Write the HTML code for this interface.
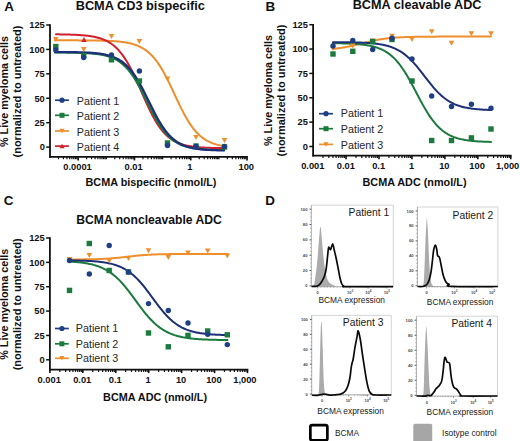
<!DOCTYPE html>
<html><head><meta charset="utf-8"><style>
html,body{margin:0;padding:0;background:#fff;}
body{width:520px;height:441px;overflow:hidden;}
svg{display:block;font-family:"Liberation Sans",sans-serif;}
</style></head><body>
<svg width="520" height="441" viewBox="0 0 520 441">
<rect width="520" height="441" fill="#fff"/>
<text x="4.30" y="11.30" font-size="13.40" font-weight="bold" text-anchor="start" fill="#111">A</text>
<text x="265.60" y="11.30" font-size="13.40" font-weight="bold" text-anchor="start" fill="#111">B</text>
<text x="3.80" y="204.90" font-size="13.40" font-weight="bold" text-anchor="start" fill="#111">C</text>
<text x="265.30" y="204.90" font-size="13.40" font-weight="bold" text-anchor="start" fill="#111">D</text>
<text x="75.70" y="10.30" font-size="12.75" font-weight="bold" text-anchor="start" fill="#111">BCMA CD3 bispecific</text>
<text x="352.70" y="9.10" font-size="12.70" font-weight="bold" text-anchor="start" fill="#111">BCMA cleavable ADC</text>
<text x="76.30" y="223.60" font-size="12.15" font-weight="bold" text-anchor="start" fill="#111">BCMA noncleavable ADC</text>
<line x1="50.00" y1="24.20" x2="50.00" y2="157.80" stroke="#111" stroke-width="1.8"/>
<line x1="46.20" y1="25.00" x2="50.00" y2="25.00" stroke="#111" stroke-width="1.5"/>
<text x="44.80" y="28.30" font-size="9.30" font-weight="bold" text-anchor="end" fill="#111">125</text>
<line x1="46.20" y1="49.42" x2="50.00" y2="49.42" stroke="#111" stroke-width="1.5"/>
<text x="44.80" y="52.72" font-size="9.30" font-weight="bold" text-anchor="end" fill="#111">100</text>
<line x1="46.20" y1="73.84" x2="50.00" y2="73.84" stroke="#111" stroke-width="1.5"/>
<text x="44.80" y="77.14" font-size="9.30" font-weight="bold" text-anchor="end" fill="#111">75</text>
<line x1="46.20" y1="98.26" x2="50.00" y2="98.26" stroke="#111" stroke-width="1.5"/>
<text x="44.80" y="101.56" font-size="9.30" font-weight="bold" text-anchor="end" fill="#111">50</text>
<line x1="46.20" y1="122.68" x2="50.00" y2="122.68" stroke="#111" stroke-width="1.5"/>
<text x="44.80" y="125.98" font-size="9.30" font-weight="bold" text-anchor="end" fill="#111">25</text>
<line x1="46.20" y1="147.10" x2="50.00" y2="147.10" stroke="#111" stroke-width="1.5"/>
<text x="44.80" y="150.40" font-size="9.30" font-weight="bold" text-anchor="end" fill="#111">0</text>
<line x1="49.20" y1="156.90" x2="247.85" y2="156.90" stroke="#111" stroke-width="1.8"/>
<line x1="58.47" y1="156.90" x2="58.47" y2="159.20" stroke="#111" stroke-width="1.2"/>
<line x1="63.43" y1="156.90" x2="63.43" y2="159.20" stroke="#111" stroke-width="1.2"/>
<line x1="66.95" y1="156.90" x2="66.95" y2="159.20" stroke="#111" stroke-width="1.2"/>
<line x1="69.68" y1="156.90" x2="69.68" y2="159.20" stroke="#111" stroke-width="1.2"/>
<line x1="71.90" y1="156.90" x2="71.90" y2="159.20" stroke="#111" stroke-width="1.2"/>
<line x1="73.79" y1="156.90" x2="73.79" y2="159.20" stroke="#111" stroke-width="1.2"/>
<line x1="75.42" y1="156.90" x2="75.42" y2="159.20" stroke="#111" stroke-width="1.2"/>
<line x1="76.86" y1="156.90" x2="76.86" y2="159.20" stroke="#111" stroke-width="1.2"/>
<line x1="78.15" y1="156.90" x2="78.15" y2="160.40" stroke="#111" stroke-width="1.6"/>
<line x1="86.62" y1="156.90" x2="86.62" y2="159.20" stroke="#111" stroke-width="1.2"/>
<line x1="91.58" y1="156.90" x2="91.58" y2="159.20" stroke="#111" stroke-width="1.2"/>
<line x1="95.10" y1="156.90" x2="95.10" y2="159.20" stroke="#111" stroke-width="1.2"/>
<line x1="97.83" y1="156.90" x2="97.83" y2="159.20" stroke="#111" stroke-width="1.2"/>
<line x1="100.05" y1="156.90" x2="100.05" y2="159.20" stroke="#111" stroke-width="1.2"/>
<line x1="101.94" y1="156.90" x2="101.94" y2="159.20" stroke="#111" stroke-width="1.2"/>
<line x1="103.57" y1="156.90" x2="103.57" y2="159.20" stroke="#111" stroke-width="1.2"/>
<line x1="105.01" y1="156.90" x2="105.01" y2="159.20" stroke="#111" stroke-width="1.2"/>
<line x1="106.30" y1="156.90" x2="106.30" y2="159.30" stroke="#111" stroke-width="1.3"/>
<line x1="114.77" y1="156.90" x2="114.77" y2="159.20" stroke="#111" stroke-width="1.2"/>
<line x1="119.73" y1="156.90" x2="119.73" y2="159.20" stroke="#111" stroke-width="1.2"/>
<line x1="123.25" y1="156.90" x2="123.25" y2="159.20" stroke="#111" stroke-width="1.2"/>
<line x1="125.98" y1="156.90" x2="125.98" y2="159.20" stroke="#111" stroke-width="1.2"/>
<line x1="128.20" y1="156.90" x2="128.20" y2="159.20" stroke="#111" stroke-width="1.2"/>
<line x1="130.09" y1="156.90" x2="130.09" y2="159.20" stroke="#111" stroke-width="1.2"/>
<line x1="131.72" y1="156.90" x2="131.72" y2="159.20" stroke="#111" stroke-width="1.2"/>
<line x1="133.16" y1="156.90" x2="133.16" y2="159.20" stroke="#111" stroke-width="1.2"/>
<line x1="134.45" y1="156.90" x2="134.45" y2="160.40" stroke="#111" stroke-width="1.6"/>
<line x1="142.92" y1="156.90" x2="142.92" y2="159.20" stroke="#111" stroke-width="1.2"/>
<line x1="147.88" y1="156.90" x2="147.88" y2="159.20" stroke="#111" stroke-width="1.2"/>
<line x1="151.40" y1="156.90" x2="151.40" y2="159.20" stroke="#111" stroke-width="1.2"/>
<line x1="154.13" y1="156.90" x2="154.13" y2="159.20" stroke="#111" stroke-width="1.2"/>
<line x1="156.35" y1="156.90" x2="156.35" y2="159.20" stroke="#111" stroke-width="1.2"/>
<line x1="158.24" y1="156.90" x2="158.24" y2="159.20" stroke="#111" stroke-width="1.2"/>
<line x1="159.87" y1="156.90" x2="159.87" y2="159.20" stroke="#111" stroke-width="1.2"/>
<line x1="161.31" y1="156.90" x2="161.31" y2="159.20" stroke="#111" stroke-width="1.2"/>
<line x1="162.60" y1="156.90" x2="162.60" y2="159.30" stroke="#111" stroke-width="1.3"/>
<line x1="171.07" y1="156.90" x2="171.07" y2="159.20" stroke="#111" stroke-width="1.2"/>
<line x1="176.03" y1="156.90" x2="176.03" y2="159.20" stroke="#111" stroke-width="1.2"/>
<line x1="179.55" y1="156.90" x2="179.55" y2="159.20" stroke="#111" stroke-width="1.2"/>
<line x1="182.28" y1="156.90" x2="182.28" y2="159.20" stroke="#111" stroke-width="1.2"/>
<line x1="184.50" y1="156.90" x2="184.50" y2="159.20" stroke="#111" stroke-width="1.2"/>
<line x1="186.39" y1="156.90" x2="186.39" y2="159.20" stroke="#111" stroke-width="1.2"/>
<line x1="188.02" y1="156.90" x2="188.02" y2="159.20" stroke="#111" stroke-width="1.2"/>
<line x1="189.46" y1="156.90" x2="189.46" y2="159.20" stroke="#111" stroke-width="1.2"/>
<line x1="190.75" y1="156.90" x2="190.75" y2="160.40" stroke="#111" stroke-width="1.6"/>
<line x1="199.22" y1="156.90" x2="199.22" y2="159.20" stroke="#111" stroke-width="1.2"/>
<line x1="204.18" y1="156.90" x2="204.18" y2="159.20" stroke="#111" stroke-width="1.2"/>
<line x1="207.70" y1="156.90" x2="207.70" y2="159.20" stroke="#111" stroke-width="1.2"/>
<line x1="210.43" y1="156.90" x2="210.43" y2="159.20" stroke="#111" stroke-width="1.2"/>
<line x1="212.65" y1="156.90" x2="212.65" y2="159.20" stroke="#111" stroke-width="1.2"/>
<line x1="214.54" y1="156.90" x2="214.54" y2="159.20" stroke="#111" stroke-width="1.2"/>
<line x1="216.17" y1="156.90" x2="216.17" y2="159.20" stroke="#111" stroke-width="1.2"/>
<line x1="217.61" y1="156.90" x2="217.61" y2="159.20" stroke="#111" stroke-width="1.2"/>
<line x1="218.90" y1="156.90" x2="218.90" y2="159.30" stroke="#111" stroke-width="1.3"/>
<line x1="227.37" y1="156.90" x2="227.37" y2="159.20" stroke="#111" stroke-width="1.2"/>
<line x1="232.33" y1="156.90" x2="232.33" y2="159.20" stroke="#111" stroke-width="1.2"/>
<line x1="235.85" y1="156.90" x2="235.85" y2="159.20" stroke="#111" stroke-width="1.2"/>
<line x1="238.58" y1="156.90" x2="238.58" y2="159.20" stroke="#111" stroke-width="1.2"/>
<line x1="240.80" y1="156.90" x2="240.80" y2="159.20" stroke="#111" stroke-width="1.2"/>
<line x1="242.69" y1="156.90" x2="242.69" y2="159.20" stroke="#111" stroke-width="1.2"/>
<line x1="244.32" y1="156.90" x2="244.32" y2="159.20" stroke="#111" stroke-width="1.2"/>
<line x1="245.76" y1="156.90" x2="245.76" y2="159.20" stroke="#111" stroke-width="1.2"/>
<line x1="247.05" y1="156.90" x2="247.05" y2="160.40" stroke="#111" stroke-width="1.6"/>
<text x="77.50" y="170.30" font-size="9.30" font-weight="bold" text-anchor="middle" fill="#111">0.0001</text>
<text x="133.60" y="170.30" font-size="9.30" font-weight="bold" text-anchor="middle" fill="#111">0.01</text>
<text x="189.80" y="170.30" font-size="9.30" font-weight="bold" text-anchor="middle" fill="#111">1</text>
<text x="246.30" y="170.30" font-size="9.30" font-weight="bold" text-anchor="middle" fill="#111">100</text>
<text transform="translate(8.30,91.50) rotate(-90)" font-size="10.80" font-weight="bold" text-anchor="middle" fill="#111">% Live myeloma cells</text>
<text transform="translate(21.30,91.50) rotate(-90)" font-size="11.00" font-weight="bold" text-anchor="middle" fill="#111">(normalized to untreated)</text>
<text x="85.50" y="185.60" font-size="10.85" font-weight="bold" text-anchor="start" fill="#111">BCMA bispecific (nmol/L)</text>
<path d="M55.00,40.33 L56.00,40.33 L57.00,40.33 L58.00,40.33 L59.00,40.33 L60.00,40.33 L61.00,40.34 L62.00,40.34 L63.00,40.34 L64.00,40.34 L65.00,40.34 L66.00,40.34 L67.00,40.34 L68.00,40.34 L69.00,40.35 L70.00,40.35 L71.00,40.35 L72.00,40.35 L73.00,40.36 L74.00,40.36 L75.00,40.36 L76.00,40.36 L77.00,40.37 L78.00,40.37 L79.00,40.38 L80.00,40.38 L81.00,40.38 L82.00,40.39 L83.00,40.40 L84.00,40.40 L85.00,40.41 L86.00,40.42 L87.00,40.42 L88.00,40.43 L89.00,40.44 L90.00,40.45 L91.00,40.46 L92.00,40.47 L93.00,40.48 L94.00,40.50 L95.00,40.51 L96.00,40.53 L97.00,40.54 L98.00,40.56 L99.00,40.58 L100.00,40.60 L101.00,40.63 L102.00,40.65 L103.00,40.68 L104.00,40.71 L105.00,40.74 L106.00,40.78 L107.00,40.81 L108.00,40.86 L109.00,40.90 L110.00,40.95 L111.00,41.00 L112.00,41.05 L113.00,41.11 L114.00,41.18 L115.00,41.25 L116.00,41.33 L117.00,41.41 L118.00,41.50 L119.00,41.60 L120.00,41.70 L121.00,41.81 L122.00,41.93 L123.00,42.07 L124.00,42.21 L125.00,42.36 L126.00,42.53 L127.00,42.71 L128.00,42.90 L129.00,43.11 L130.00,43.33 L131.00,43.58 L132.00,43.84 L133.00,44.12 L134.00,44.42 L135.00,44.75 L136.00,45.10 L137.00,45.48 L138.00,45.88 L139.00,46.32 L140.00,46.79 L141.00,47.29 L142.00,47.83 L143.00,48.41 L144.00,49.02 L145.00,49.68 L146.00,50.39 L147.00,51.14 L148.00,51.94 L149.00,52.79 L150.00,53.70 L151.00,54.66 L152.00,55.68 L153.00,56.77 L154.00,57.91 L155.00,59.11 L156.00,60.39 L157.00,61.72 L158.00,63.12 L159.00,64.59 L160.00,66.12 L161.00,67.72 L162.00,69.38 L163.00,71.11 L164.00,72.89 L165.00,74.73 L166.00,76.63 L167.00,78.57 L168.00,80.57 L169.00,82.60 L170.00,84.66 L171.00,86.76 L172.00,88.88 L173.00,91.02 L174.00,93.17 L175.00,95.32 L176.00,97.46 L177.00,99.60 L178.00,101.72 L179.00,103.82 L180.00,105.88 L181.00,107.92 L182.00,109.91 L183.00,111.85 L184.00,113.75 L185.00,115.59 L186.00,117.37 L187.00,119.10 L188.00,120.76 L189.00,122.36 L190.00,123.89 L191.00,125.36 L192.00,126.76 L193.00,128.10 L194.00,129.37 L195.00,130.57 L196.00,131.72 L197.00,132.80 L198.00,133.82 L199.00,134.78 L200.00,135.69 L201.00,136.54 L202.00,137.35 L203.00,138.10 L204.00,138.80 L205.00,139.46 L206.00,140.08 L207.00,140.66 L208.00,141.20 L209.00,141.70 L210.00,142.17 L211.00,142.60 L212.00,143.01 L213.00,143.39 L214.00,143.74 L215.00,144.06 L216.00,144.37 L217.00,144.65 L218.00,144.91 L219.00,145.15 L220.00,145.38 L221.00,145.59 L222.00,145.78 L223.00,145.96 L224.00,146.12" fill="none" stroke="#ee8e2c" stroke-width="2.00" stroke-linejoin="round" stroke-linecap="round"/>
<path d="M56.00,34.34 L57.00,34.35 L58.00,34.36 L59.00,34.37 L60.00,34.38 L61.00,34.40 L62.00,34.41 L63.00,34.43 L64.00,34.45 L65.00,34.47 L66.00,34.49 L67.00,34.51 L68.00,34.54 L69.00,34.57 L70.00,34.60 L71.00,34.63 L72.00,34.66 L73.00,34.70 L74.00,34.74 L75.00,34.79 L76.00,34.83 L77.00,34.88 L78.00,34.94 L79.00,35.00 L80.00,35.06 L81.00,35.14 L82.00,35.21 L83.00,35.29 L84.00,35.38 L85.00,35.48 L86.00,35.58 L87.00,35.69 L88.00,35.82 L89.00,35.95 L90.00,36.09 L91.00,36.24 L92.00,36.41 L93.00,36.59 L94.00,36.78 L95.00,36.98 L96.00,37.21 L97.00,37.45 L98.00,37.71 L99.00,37.99 L100.00,38.29 L101.00,38.62 L102.00,38.97 L103.00,39.34 L104.00,39.75 L105.00,40.18 L106.00,40.65 L107.00,41.15 L108.00,41.69 L109.00,42.27 L110.00,42.88 L111.00,43.54 L112.00,44.25 L113.00,45.00 L114.00,45.81 L115.00,46.66 L116.00,47.57 L117.00,48.54 L118.00,49.57 L119.00,50.66 L120.00,51.82 L121.00,53.04 L122.00,54.33 L123.00,55.69 L124.00,57.11 L125.00,58.61 L126.00,60.18 L127.00,61.82 L128.00,63.52 L129.00,65.30 L130.00,67.14 L131.00,69.05 L132.00,71.01 L133.00,73.04 L134.00,75.12 L135.00,77.25 L136.00,79.42 L137.00,81.63 L138.00,83.87 L139.00,86.13 L140.00,88.41 L141.00,90.71 L142.00,93.00 L143.00,95.29 L144.00,97.57 L145.00,99.84 L146.00,102.07 L147.00,104.28 L148.00,106.44 L149.00,108.56 L150.00,110.63 L151.00,112.65 L152.00,114.60 L153.00,116.50 L154.00,118.33 L155.00,120.09 L156.00,121.78 L157.00,123.40 L158.00,124.95 L159.00,126.42 L160.00,127.83 L161.00,129.16 L162.00,130.43 L163.00,131.62 L164.00,132.75 L165.00,133.82 L166.00,134.82 L167.00,135.76 L168.00,136.64 L169.00,137.47 L170.00,138.25 L171.00,138.97 L172.00,139.65 L173.00,140.28 L174.00,140.87 L175.00,141.42 L176.00,141.93 L177.00,142.40 L178.00,142.84 L179.00,143.25 L180.00,143.63 L181.00,143.98 L182.00,144.31 L183.00,144.61 L184.00,144.89 L185.00,145.15 L186.00,145.39 L187.00,145.61 L188.00,145.82 L189.00,146.01 L190.00,146.18 L191.00,146.34 L192.00,146.49 L193.00,146.63 L194.00,146.75 L195.00,146.87 L196.00,146.98 L197.00,147.08 L198.00,147.17 L199.00,147.26 L200.00,147.33 L201.00,147.41 L202.00,147.47 L203.00,147.53 L204.00,147.59 L205.00,147.64 L206.00,147.69 L207.00,147.73 L208.00,147.77 L209.00,147.81 L210.00,147.84 L211.00,147.88 L212.00,147.91 L213.00,147.93 L214.00,147.96 L215.00,147.98 L216.00,148.00 L217.00,148.02 L218.00,148.04 L219.00,148.05 L220.00,148.07 L221.00,148.08 L222.00,148.10 L223.00,148.11 L224.00,148.12" fill="none" stroke="#d2202e" stroke-width="2.00" stroke-linejoin="round" stroke-linecap="round"/>
<path d="M55.00,52.55 L56.00,52.55 L57.00,52.56 L58.00,52.56 L59.00,52.57 L60.00,52.58 L61.00,52.58 L62.00,52.59 L63.00,52.60 L64.00,52.61 L65.00,52.61 L66.00,52.62 L67.00,52.63 L68.00,52.65 L69.00,52.66 L70.00,52.67 L71.00,52.69 L72.00,52.70 L73.00,52.72 L74.00,52.74 L75.00,52.76 L76.00,52.78 L77.00,52.81 L78.00,52.83 L79.00,52.86 L80.00,52.89 L81.00,52.93 L82.00,52.96 L83.00,53.00 L84.00,53.05 L85.00,53.09 L86.00,53.14 L87.00,53.20 L88.00,53.26 L89.00,53.32 L90.00,53.39 L91.00,53.47 L92.00,53.55 L93.00,53.64 L94.00,53.74 L95.00,53.84 L96.00,53.96 L97.00,54.08 L98.00,54.22 L99.00,54.36 L100.00,54.52 L101.00,54.69 L102.00,54.87 L103.00,55.07 L104.00,55.28 L105.00,55.52 L106.00,55.77 L107.00,56.04 L108.00,56.33 L109.00,56.65 L110.00,56.99 L111.00,57.35 L112.00,57.75 L113.00,58.17 L114.00,58.63 L115.00,59.12 L116.00,59.65 L117.00,60.22 L118.00,60.83 L119.00,61.48 L120.00,62.17 L121.00,62.92 L122.00,63.71 L123.00,64.56 L124.00,65.46 L125.00,66.41 L126.00,67.43 L127.00,68.50 L128.00,69.64 L129.00,70.84 L130.00,72.10 L131.00,73.42 L132.00,74.81 L133.00,76.27 L134.00,77.78 L135.00,79.36 L136.00,81.00 L137.00,82.69 L138.00,84.44 L139.00,86.24 L140.00,88.09 L141.00,89.98 L142.00,91.91 L143.00,93.86 L144.00,95.84 L145.00,97.84 L146.00,99.86 L147.00,101.87 L148.00,103.89 L149.00,105.90 L150.00,107.89 L151.00,109.86 L152.00,111.80 L153.00,113.71 L154.00,115.58 L155.00,117.41 L156.00,119.19 L157.00,120.91 L158.00,122.58 L159.00,124.19 L160.00,125.74 L161.00,127.22 L162.00,128.65 L163.00,130.01 L164.00,131.30 L165.00,132.53 L166.00,133.70 L167.00,134.81 L168.00,135.86 L169.00,136.84 L170.00,137.77 L171.00,138.65 L172.00,139.47 L173.00,140.24 L174.00,140.96 L175.00,141.63 L176.00,142.26 L177.00,142.85 L178.00,143.40 L179.00,143.91 L180.00,144.39 L181.00,144.83 L182.00,145.24 L183.00,145.62 L184.00,145.98 L185.00,146.30 L186.00,146.61 L187.00,146.89 L188.00,147.15 L189.00,147.39 L190.00,147.62 L191.00,147.83 L192.00,148.02 L193.00,148.19 L194.00,148.36 L195.00,148.51 L196.00,148.65 L197.00,148.78 L198.00,148.90 L199.00,149.01 L200.00,149.11 L201.00,149.20 L202.00,149.29 L203.00,149.37 L204.00,149.44 L205.00,149.51 L206.00,149.57 L207.00,149.63 L208.00,149.68 L209.00,149.73 L210.00,149.77 L211.00,149.82 L212.00,149.85 L213.00,149.89 L214.00,149.92 L215.00,149.95 L216.00,149.98 L217.00,150.00 L218.00,150.03 L219.00,150.05 L220.00,150.07 L221.00,150.09 L222.00,150.10 L223.00,150.12 L224.00,150.13" fill="none" stroke="#1b7a3d" stroke-width="2.00" stroke-linejoin="round" stroke-linecap="round"/>
<path d="M55.00,52.04 L56.00,52.05 L57.00,52.05 L58.00,52.05 L59.00,52.06 L60.00,52.06 L61.00,52.07 L62.00,52.08 L63.00,52.08 L64.00,52.09 L65.00,52.10 L66.00,52.11 L67.00,52.12 L68.00,52.13 L69.00,52.14 L70.00,52.15 L71.00,52.16 L72.00,52.17 L73.00,52.19 L74.00,52.21 L75.00,52.22 L76.00,52.24 L77.00,52.26 L78.00,52.29 L79.00,52.31 L80.00,52.34 L81.00,52.37 L82.00,52.40 L83.00,52.43 L84.00,52.47 L85.00,52.51 L86.00,52.55 L87.00,52.60 L88.00,52.65 L89.00,52.71 L90.00,52.77 L91.00,52.83 L92.00,52.90 L93.00,52.98 L94.00,53.06 L95.00,53.15 L96.00,53.25 L97.00,53.36 L98.00,53.47 L99.00,53.60 L100.00,53.73 L101.00,53.88 L102.00,54.03 L103.00,54.21 L104.00,54.39 L105.00,54.59 L106.00,54.81 L107.00,55.04 L108.00,55.29 L109.00,55.57 L110.00,55.86 L111.00,56.18 L112.00,56.52 L113.00,56.89 L114.00,57.29 L115.00,57.72 L116.00,58.18 L117.00,58.68 L118.00,59.21 L119.00,59.78 L120.00,60.40 L121.00,61.05 L122.00,61.75 L123.00,62.50 L124.00,63.30 L125.00,64.16 L126.00,65.06 L127.00,66.03 L128.00,67.05 L129.00,68.13 L130.00,69.28 L131.00,70.49 L132.00,71.76 L133.00,73.10 L134.00,74.50 L135.00,75.96 L136.00,77.49 L137.00,79.08 L138.00,80.73 L139.00,82.44 L140.00,84.21 L141.00,86.02 L142.00,87.88 L143.00,89.79 L144.00,91.73 L145.00,93.70 L146.00,95.70 L147.00,97.72 L148.00,99.74 L149.00,101.78 L150.00,103.81 L151.00,105.84 L152.00,107.84 L153.00,109.83 L154.00,111.79 L155.00,113.71 L156.00,115.60 L157.00,117.44 L158.00,119.23 L159.00,120.97 L160.00,122.65 L161.00,124.27 L162.00,125.84 L163.00,127.34 L164.00,128.77 L165.00,130.14 L166.00,131.45 L167.00,132.69 L168.00,133.87 L169.00,134.98 L170.00,136.04 L171.00,137.03 L172.00,137.97 L173.00,138.85 L174.00,139.68 L175.00,140.46 L176.00,141.18 L177.00,141.86 L178.00,142.50 L179.00,143.09 L180.00,143.64 L181.00,144.16 L182.00,144.64 L183.00,145.08 L184.00,145.50 L185.00,145.88 L186.00,146.24 L187.00,146.57 L188.00,146.88 L189.00,147.16 L190.00,147.43 L191.00,147.67 L192.00,147.90 L193.00,148.11 L194.00,148.30 L195.00,148.48 L196.00,148.64 L197.00,148.79 L198.00,148.93 L199.00,149.06 L200.00,149.18 L201.00,149.30 L202.00,149.40 L203.00,149.49 L204.00,149.58 L205.00,149.66 L206.00,149.73 L207.00,149.80 L208.00,149.86 L209.00,149.92 L210.00,149.97 L211.00,150.02 L212.00,150.07 L213.00,150.11 L214.00,150.15 L215.00,150.19 L216.00,150.22 L217.00,150.25 L218.00,150.28 L219.00,150.30 L220.00,150.33 L221.00,150.35 L222.00,150.37 L223.00,150.39 L224.00,150.40" fill="none" stroke="#1d2f78" stroke-width="2.30" stroke-linejoin="round" stroke-linecap="round"/>
<path d="M53.00,36.98 L58.60,36.98 L55.80,42.02 Z" fill="#ee8e2c"/>
<path d="M80.90,46.98 L86.50,46.98 L83.70,52.02 Z" fill="#ee8e2c"/>
<path d="M108.70,33.98 L114.30,33.98 L111.50,39.02 Z" fill="#ee8e2c"/>
<path d="M136.60,38.98 L142.20,38.98 L139.40,44.02 Z" fill="#ee8e2c"/>
<path d="M164.70,76.48 L170.30,76.48 L167.50,81.52 Z" fill="#ee8e2c"/>
<path d="M193.20,134.98 L198.80,134.98 L196.00,140.02 Z" fill="#ee8e2c"/>
<path d="M221.70,137.98 L227.30,137.98 L224.50,143.02 Z" fill="#ee8e2c"/>
<path d="M81.20,42.02 L86.80,42.02 L84.00,36.98 Z" fill="#d2202e"/>
<rect x="53.10" y="43.80" width="5.40" height="5.40" fill="#1b7a3d"/>
<rect x="81.00" y="52.80" width="5.40" height="5.40" fill="#1b7a3d"/>
<rect x="108.80" y="57.10" width="5.40" height="5.40" fill="#1b7a3d"/>
<rect x="136.70" y="78.30" width="5.40" height="5.40" fill="#1b7a3d"/>
<rect x="164.80" y="140.30" width="5.40" height="5.40" fill="#1b7a3d"/>
<rect x="193.30" y="143.30" width="5.40" height="5.40" fill="#1b7a3d"/>
<rect x="221.80" y="144.30" width="5.40" height="5.40" fill="#1b7a3d"/>
<circle cx="55.80" cy="50.00" r="2.70" fill="#1f3f84"/>
<circle cx="83.70" cy="57.50" r="2.70" fill="#1f3f84"/>
<circle cx="111.50" cy="55.00" r="2.70" fill="#1f3f84"/>
<circle cx="139.40" cy="71.00" r="2.70" fill="#1f3f84"/>
<circle cx="167.50" cy="145.50" r="2.70" fill="#1f3f84"/>
<circle cx="196.00" cy="146.50" r="2.70" fill="#1f3f84"/>
<circle cx="224.50" cy="146.50" r="2.70" fill="#1f3f84"/>
<line x1="55.00" y1="100.20" x2="68.90" y2="100.20" stroke="#1f3f84" stroke-width="1.7"/>
<circle cx="62.00" cy="100.20" r="2.60" fill="#1f3f84"/>
<text x="76.80" y="105.40" font-size="10.75" font-weight="normal" text-anchor="start" fill="#262626">Patient 1</text>
<line x1="55.00" y1="115.30" x2="68.90" y2="115.30" stroke="#1b7a3d" stroke-width="1.7"/>
<rect x="59.50" y="112.80" width="5.00" height="5.00" fill="#1b7a3d"/>
<text x="76.80" y="120.40" font-size="10.75" font-weight="normal" text-anchor="start" fill="#262626">Patient 2</text>
<line x1="55.00" y1="131.00" x2="68.90" y2="131.00" stroke="#ee8e2c" stroke-width="1.7"/>
<path d="M59.50,128.75 L64.50,128.75 L62.00,133.25 Z" fill="#ee8e2c"/>
<text x="76.80" y="135.50" font-size="10.75" font-weight="normal" text-anchor="start" fill="#262626">Patient 3</text>
<line x1="55.00" y1="146.10" x2="68.90" y2="146.10" stroke="#d2202e" stroke-width="1.7"/>
<path d="M59.50,148.35 L64.50,148.35 L62.00,143.85 Z" fill="#d2202e"/>
<text x="76.80" y="150.70" font-size="10.75" font-weight="normal" text-anchor="start" fill="#262626">Patient 4</text>
<line x1="313.10" y1="23.90" x2="313.10" y2="156.50" stroke="#111" stroke-width="1.8"/>
<line x1="309.30" y1="24.70" x2="313.10" y2="24.70" stroke="#111" stroke-width="1.5"/>
<text x="307.90" y="28.00" font-size="9.30" font-weight="bold" text-anchor="end" fill="#111">125</text>
<line x1="309.30" y1="49.06" x2="313.10" y2="49.06" stroke="#111" stroke-width="1.5"/>
<text x="307.90" y="52.36" font-size="9.30" font-weight="bold" text-anchor="end" fill="#111">100</text>
<line x1="309.30" y1="73.42" x2="313.10" y2="73.42" stroke="#111" stroke-width="1.5"/>
<text x="307.90" y="76.72" font-size="9.30" font-weight="bold" text-anchor="end" fill="#111">75</text>
<line x1="309.30" y1="97.78" x2="313.10" y2="97.78" stroke="#111" stroke-width="1.5"/>
<text x="307.90" y="101.08" font-size="9.30" font-weight="bold" text-anchor="end" fill="#111">50</text>
<line x1="309.30" y1="122.14" x2="313.10" y2="122.14" stroke="#111" stroke-width="1.5"/>
<text x="307.90" y="125.44" font-size="9.30" font-weight="bold" text-anchor="end" fill="#111">25</text>
<line x1="309.30" y1="146.50" x2="313.10" y2="146.50" stroke="#111" stroke-width="1.5"/>
<text x="307.90" y="149.80" font-size="9.30" font-weight="bold" text-anchor="end" fill="#111">0</text>
<line x1="312.30" y1="155.70" x2="511.60" y2="155.70" stroke="#111" stroke-width="1.8"/>
<line x1="323.02" y1="155.70" x2="323.02" y2="158.00" stroke="#111" stroke-width="1.2"/>
<line x1="328.82" y1="155.70" x2="328.82" y2="158.00" stroke="#111" stroke-width="1.2"/>
<line x1="332.94" y1="155.70" x2="332.94" y2="158.00" stroke="#111" stroke-width="1.2"/>
<line x1="336.13" y1="155.70" x2="336.13" y2="158.00" stroke="#111" stroke-width="1.2"/>
<line x1="338.74" y1="155.70" x2="338.74" y2="158.00" stroke="#111" stroke-width="1.2"/>
<line x1="340.95" y1="155.70" x2="340.95" y2="158.00" stroke="#111" stroke-width="1.2"/>
<line x1="342.86" y1="155.70" x2="342.86" y2="158.00" stroke="#111" stroke-width="1.2"/>
<line x1="344.54" y1="155.70" x2="344.54" y2="158.00" stroke="#111" stroke-width="1.2"/>
<line x1="346.05" y1="155.70" x2="346.05" y2="159.20" stroke="#111" stroke-width="1.6"/>
<line x1="355.97" y1="155.70" x2="355.97" y2="158.00" stroke="#111" stroke-width="1.2"/>
<line x1="361.77" y1="155.70" x2="361.77" y2="158.00" stroke="#111" stroke-width="1.2"/>
<line x1="365.89" y1="155.70" x2="365.89" y2="158.00" stroke="#111" stroke-width="1.2"/>
<line x1="369.08" y1="155.70" x2="369.08" y2="158.00" stroke="#111" stroke-width="1.2"/>
<line x1="371.69" y1="155.70" x2="371.69" y2="158.00" stroke="#111" stroke-width="1.2"/>
<line x1="373.90" y1="155.70" x2="373.90" y2="158.00" stroke="#111" stroke-width="1.2"/>
<line x1="375.81" y1="155.70" x2="375.81" y2="158.00" stroke="#111" stroke-width="1.2"/>
<line x1="377.49" y1="155.70" x2="377.49" y2="158.00" stroke="#111" stroke-width="1.2"/>
<line x1="379.00" y1="155.70" x2="379.00" y2="159.20" stroke="#111" stroke-width="1.6"/>
<line x1="388.92" y1="155.70" x2="388.92" y2="158.00" stroke="#111" stroke-width="1.2"/>
<line x1="394.72" y1="155.70" x2="394.72" y2="158.00" stroke="#111" stroke-width="1.2"/>
<line x1="398.84" y1="155.70" x2="398.84" y2="158.00" stroke="#111" stroke-width="1.2"/>
<line x1="402.03" y1="155.70" x2="402.03" y2="158.00" stroke="#111" stroke-width="1.2"/>
<line x1="404.64" y1="155.70" x2="404.64" y2="158.00" stroke="#111" stroke-width="1.2"/>
<line x1="406.85" y1="155.70" x2="406.85" y2="158.00" stroke="#111" stroke-width="1.2"/>
<line x1="408.76" y1="155.70" x2="408.76" y2="158.00" stroke="#111" stroke-width="1.2"/>
<line x1="410.44" y1="155.70" x2="410.44" y2="158.00" stroke="#111" stroke-width="1.2"/>
<line x1="411.95" y1="155.70" x2="411.95" y2="159.20" stroke="#111" stroke-width="1.6"/>
<line x1="421.87" y1="155.70" x2="421.87" y2="158.00" stroke="#111" stroke-width="1.2"/>
<line x1="427.67" y1="155.70" x2="427.67" y2="158.00" stroke="#111" stroke-width="1.2"/>
<line x1="431.79" y1="155.70" x2="431.79" y2="158.00" stroke="#111" stroke-width="1.2"/>
<line x1="434.98" y1="155.70" x2="434.98" y2="158.00" stroke="#111" stroke-width="1.2"/>
<line x1="437.59" y1="155.70" x2="437.59" y2="158.00" stroke="#111" stroke-width="1.2"/>
<line x1="439.80" y1="155.70" x2="439.80" y2="158.00" stroke="#111" stroke-width="1.2"/>
<line x1="441.71" y1="155.70" x2="441.71" y2="158.00" stroke="#111" stroke-width="1.2"/>
<line x1="443.39" y1="155.70" x2="443.39" y2="158.00" stroke="#111" stroke-width="1.2"/>
<line x1="444.90" y1="155.70" x2="444.90" y2="159.20" stroke="#111" stroke-width="1.6"/>
<line x1="454.82" y1="155.70" x2="454.82" y2="158.00" stroke="#111" stroke-width="1.2"/>
<line x1="460.62" y1="155.70" x2="460.62" y2="158.00" stroke="#111" stroke-width="1.2"/>
<line x1="464.74" y1="155.70" x2="464.74" y2="158.00" stroke="#111" stroke-width="1.2"/>
<line x1="467.93" y1="155.70" x2="467.93" y2="158.00" stroke="#111" stroke-width="1.2"/>
<line x1="470.54" y1="155.70" x2="470.54" y2="158.00" stroke="#111" stroke-width="1.2"/>
<line x1="472.75" y1="155.70" x2="472.75" y2="158.00" stroke="#111" stroke-width="1.2"/>
<line x1="474.66" y1="155.70" x2="474.66" y2="158.00" stroke="#111" stroke-width="1.2"/>
<line x1="476.34" y1="155.70" x2="476.34" y2="158.00" stroke="#111" stroke-width="1.2"/>
<line x1="477.85" y1="155.70" x2="477.85" y2="159.20" stroke="#111" stroke-width="1.6"/>
<line x1="487.77" y1="155.70" x2="487.77" y2="158.00" stroke="#111" stroke-width="1.2"/>
<line x1="493.57" y1="155.70" x2="493.57" y2="158.00" stroke="#111" stroke-width="1.2"/>
<line x1="497.69" y1="155.70" x2="497.69" y2="158.00" stroke="#111" stroke-width="1.2"/>
<line x1="500.88" y1="155.70" x2="500.88" y2="158.00" stroke="#111" stroke-width="1.2"/>
<line x1="503.49" y1="155.70" x2="503.49" y2="158.00" stroke="#111" stroke-width="1.2"/>
<line x1="505.70" y1="155.70" x2="505.70" y2="158.00" stroke="#111" stroke-width="1.2"/>
<line x1="507.61" y1="155.70" x2="507.61" y2="158.00" stroke="#111" stroke-width="1.2"/>
<line x1="509.29" y1="155.70" x2="509.29" y2="158.00" stroke="#111" stroke-width="1.2"/>
<line x1="510.80" y1="155.70" x2="510.80" y2="159.20" stroke="#111" stroke-width="1.6"/>
<text x="312.80" y="169.10" font-size="9.30" font-weight="bold" text-anchor="middle" fill="#111">0.001</text>
<text x="345.80" y="169.10" font-size="9.30" font-weight="bold" text-anchor="middle" fill="#111">0.01</text>
<text x="378.60" y="169.10" font-size="9.30" font-weight="bold" text-anchor="middle" fill="#111">0.1</text>
<text x="411.50" y="169.10" font-size="9.30" font-weight="bold" text-anchor="middle" fill="#111">1</text>
<text x="444.30" y="169.10" font-size="9.30" font-weight="bold" text-anchor="middle" fill="#111">10</text>
<text x="477.10" y="169.10" font-size="9.30" font-weight="bold" text-anchor="middle" fill="#111">100</text>
<text x="507.60" y="169.10" font-size="9.30" font-weight="bold" text-anchor="middle" fill="#111">1,000</text>
<text transform="translate(272.10,90.50) rotate(-90)" font-size="10.80" font-weight="bold" text-anchor="middle" fill="#111">% Live myeloma cells</text>
<text transform="translate(285.40,90.50) rotate(-90)" font-size="11.00" font-weight="bold" text-anchor="middle" fill="#111">(normalized to untreated)</text>
<text x="362.50" y="185.60" font-size="10.85" font-weight="bold" text-anchor="start" fill="#111">BCMA ADC (nmol/L)</text>
<path d="M333.00,48.88 L334.00,48.77 L335.00,48.67 L336.00,48.55 L337.00,48.43 L338.00,48.30 L339.00,48.17 L340.00,48.03 L341.00,47.88 L342.00,47.73 L343.00,47.57 L344.00,47.40 L345.00,47.22 L346.00,47.04 L347.00,46.85 L348.00,46.65 L349.00,46.45 L350.00,46.24 L351.00,46.02 L352.00,45.80 L353.00,45.57 L354.00,45.34 L355.00,45.10 L356.00,44.86 L357.00,44.61 L358.00,44.36 L359.00,44.11 L360.00,43.86 L361.00,43.61 L362.00,43.36 L363.00,43.10 L364.00,42.85 L365.00,42.60 L366.00,42.35 L367.00,42.11 L368.00,41.87 L369.00,41.63 L370.00,41.39 L371.00,41.17 L372.00,40.94 L373.00,40.73 L374.00,40.52 L375.00,40.31 L376.00,40.12 L377.00,39.93 L378.00,39.75 L379.00,39.57 L380.00,39.40 L381.00,39.24 L382.00,39.08 L383.00,38.94 L384.00,38.80 L385.00,38.66 L386.00,38.54 L387.00,38.42 L388.00,38.30 L389.00,38.19 L390.00,38.09 L391.00,37.99 L392.00,37.90 L393.00,37.82 L394.00,37.74 L395.00,37.66 L396.00,37.59 L397.00,37.52 L398.00,37.46 L399.00,37.40 L400.00,37.34 L401.00,37.29 L402.00,37.24 L403.00,37.20 L404.00,37.16 L405.00,37.12 L406.00,37.08 L407.00,37.04 L408.00,37.01 L409.00,36.98 L410.00,36.95 L411.00,36.93 L412.00,36.90 L413.00,36.88 L414.00,36.86 L415.00,36.84 L416.00,36.82 L417.00,36.80 L418.00,36.78 L419.00,36.77 L420.00,36.76 L421.00,36.74 L422.00,36.73 L423.00,36.72 L424.00,36.71 L425.00,36.70 L426.00,36.69 L427.00,36.68 L428.00,36.67 L429.00,36.67 L430.00,36.66 L431.00,36.65 L432.00,36.65 L433.00,36.64 L434.00,36.64 L435.00,36.63 L436.00,36.63 L437.00,36.62 L438.00,36.62 L439.00,36.62 L440.00,36.61 L441.00,36.61 L442.00,36.61 L443.00,36.60 L444.00,36.60 L445.00,36.60 L446.00,36.60 L447.00,36.59 L448.00,36.59 L449.00,36.59 L450.00,36.59 L451.00,36.59 L452.00,36.59 L453.00,36.59 L454.00,36.58 L455.00,36.58 L456.00,36.58 L457.00,36.58 L458.00,36.58 L459.00,36.58 L460.00,36.58 L461.00,36.58 L462.00,36.58 L463.00,36.58 L464.00,36.58 L465.00,36.58 L466.00,36.57 L467.00,36.57 L468.00,36.57 L469.00,36.57 L470.00,36.57 L471.00,36.57 L472.00,36.57 L473.00,36.57 L474.00,36.57 L475.00,36.57 L476.00,36.57 L477.00,36.57 L478.00,36.57 L479.00,36.57 L480.00,36.57 L481.00,36.57 L482.00,36.57 L483.00,36.57 L484.00,36.57 L485.00,36.57 L486.00,36.57 L487.00,36.57 L488.00,36.57 L489.00,36.57 L490.00,36.57 L491.00,36.57" fill="none" stroke="#ee8e2c" stroke-width="2.00" stroke-linejoin="round" stroke-linecap="round"/>
<path d="M333.00,43.21 L334.00,43.22 L335.00,43.24 L336.00,43.25 L337.00,43.27 L338.00,43.29 L339.00,43.31 L340.00,43.33 L341.00,43.35 L342.00,43.37 L343.00,43.40 L344.00,43.42 L345.00,43.45 L346.00,43.49 L347.00,43.52 L348.00,43.56 L349.00,43.60 L350.00,43.64 L351.00,43.69 L352.00,43.74 L353.00,43.80 L354.00,43.86 L355.00,43.92 L356.00,43.99 L357.00,44.07 L358.00,44.15 L359.00,44.23 L360.00,44.33 L361.00,44.43 L362.00,44.54 L363.00,44.65 L364.00,44.78 L365.00,44.91 L366.00,45.06 L367.00,45.22 L368.00,45.39 L369.00,45.57 L370.00,45.77 L371.00,45.98 L372.00,46.21 L373.00,46.45 L374.00,46.71 L375.00,46.99 L376.00,47.30 L377.00,47.62 L378.00,47.97 L379.00,48.34 L380.00,48.74 L381.00,49.17 L382.00,49.63 L383.00,50.11 L384.00,50.64 L385.00,51.20 L386.00,51.79 L387.00,52.42 L388.00,53.10 L389.00,53.82 L390.00,54.58 L391.00,55.39 L392.00,56.24 L393.00,57.15 L394.00,58.11 L395.00,59.12 L396.00,60.18 L397.00,61.30 L398.00,62.48 L399.00,63.71 L400.00,65.00 L401.00,66.34 L402.00,67.74 L403.00,69.20 L404.00,70.71 L405.00,72.27 L406.00,73.89 L407.00,75.55 L408.00,77.25 L409.00,79.00 L410.00,80.78 L411.00,82.60 L412.00,84.44 L413.00,86.31 L414.00,88.20 L415.00,90.10 L416.00,92.01 L417.00,93.92 L418.00,95.82 L419.00,97.72 L420.00,99.60 L421.00,101.47 L422.00,103.30 L423.00,105.11 L424.00,106.88 L425.00,108.61 L426.00,110.30 L427.00,111.95 L428.00,113.54 L429.00,115.09 L430.00,116.58 L431.00,118.02 L432.00,119.40 L433.00,120.73 L434.00,121.99 L435.00,123.21 L436.00,124.36 L437.00,125.47 L438.00,126.51 L439.00,127.50 L440.00,128.44 L441.00,129.33 L442.00,130.17 L443.00,130.97 L444.00,131.71 L445.00,132.42 L446.00,133.08 L447.00,133.70 L448.00,134.28 L449.00,134.82 L450.00,135.34 L451.00,135.81 L452.00,136.26 L453.00,136.68 L454.00,137.07 L455.00,137.43 L456.00,137.77 L457.00,138.09 L458.00,138.39 L459.00,138.66 L460.00,138.92 L461.00,139.15 L462.00,139.38 L463.00,139.58 L464.00,139.77 L465.00,139.95 L466.00,140.12 L467.00,140.27 L468.00,140.41 L469.00,140.55 L470.00,140.67 L471.00,140.78 L472.00,140.89 L473.00,140.99 L474.00,141.08 L475.00,141.16 L476.00,141.24 L477.00,141.31 L478.00,141.38 L479.00,141.44 L480.00,141.50 L481.00,141.56 L482.00,141.61 L483.00,141.65 L484.00,141.70 L485.00,141.73 L486.00,141.77 L487.00,141.81 L488.00,141.84 L489.00,141.87 L490.00,141.89 L491.00,141.92" fill="none" stroke="#1b7a3d" stroke-width="2.00" stroke-linejoin="round" stroke-linecap="round"/>
<path d="M333.00,42.13 L334.00,42.14 L335.00,42.14 L336.00,42.15 L337.00,42.15 L338.00,42.16 L339.00,42.17 L340.00,42.18 L341.00,42.19 L342.00,42.19 L343.00,42.20 L344.00,42.21 L345.00,42.23 L346.00,42.24 L347.00,42.25 L348.00,42.27 L349.00,42.28 L350.00,42.30 L351.00,42.32 L352.00,42.34 L353.00,42.36 L354.00,42.38 L355.00,42.41 L356.00,42.43 L357.00,42.46 L358.00,42.49 L359.00,42.53 L360.00,42.56 L361.00,42.60 L362.00,42.64 L363.00,42.69 L364.00,42.74 L365.00,42.79 L366.00,42.85 L367.00,42.91 L368.00,42.97 L369.00,43.04 L370.00,43.12 L371.00,43.20 L372.00,43.29 L373.00,43.38 L374.00,43.48 L375.00,43.59 L376.00,43.71 L377.00,43.84 L378.00,43.98 L379.00,44.12 L380.00,44.28 L381.00,44.45 L382.00,44.63 L383.00,44.83 L384.00,45.03 L385.00,45.26 L386.00,45.50 L387.00,45.76 L388.00,46.03 L389.00,46.33 L390.00,46.64 L391.00,46.98 L392.00,47.34 L393.00,47.72 L394.00,48.13 L395.00,48.56 L396.00,49.02 L397.00,49.52 L398.00,50.04 L399.00,50.59 L400.00,51.17 L401.00,51.79 L402.00,52.45 L403.00,53.14 L404.00,53.86 L405.00,54.63 L406.00,55.43 L407.00,56.26 L408.00,57.14 L409.00,58.06 L410.00,59.01 L411.00,60.00 L412.00,61.03 L413.00,62.09 L414.00,63.19 L415.00,64.31 L416.00,65.47 L417.00,66.66 L418.00,67.87 L419.00,69.11 L420.00,70.37 L421.00,71.64 L422.00,72.92 L423.00,74.22 L424.00,75.52 L425.00,76.82 L426.00,78.13 L427.00,79.42 L428.00,80.71 L429.00,81.98 L430.00,83.24 L431.00,84.48 L432.00,85.69 L433.00,86.89 L434.00,88.05 L435.00,89.18 L436.00,90.28 L437.00,91.35 L438.00,92.38 L439.00,93.37 L440.00,94.33 L441.00,95.25 L442.00,96.13 L443.00,96.97 L444.00,97.78 L445.00,98.55 L446.00,99.28 L447.00,99.97 L448.00,100.63 L449.00,101.25 L450.00,101.84 L451.00,102.39 L452.00,102.92 L453.00,103.41 L454.00,103.88 L455.00,104.32 L456.00,104.73 L457.00,105.11 L458.00,105.48 L459.00,105.81 L460.00,106.13 L461.00,106.43 L462.00,106.71 L463.00,106.97 L464.00,107.21 L465.00,107.43 L466.00,107.64 L467.00,107.84 L468.00,108.02 L469.00,108.19 L470.00,108.35 L471.00,108.50 L472.00,108.64 L473.00,108.77 L474.00,108.88 L475.00,109.00 L476.00,109.10 L477.00,109.19 L478.00,109.28 L479.00,109.37 L480.00,109.44 L481.00,109.51 L482.00,109.58 L483.00,109.64 L484.00,109.70 L485.00,109.75 L486.00,109.80 L487.00,109.84 L488.00,109.89 L489.00,109.93 L490.00,109.96 L491.00,110.00" fill="none" stroke="#1d2f78" stroke-width="2.00" stroke-linejoin="round" stroke-linecap="round"/>
<path d="M330.20,45.98 L335.80,45.98 L333.00,51.02 Z" fill="#ee8e2c"/>
<path d="M350.00,43.48 L355.60,43.48 L352.80,48.52 Z" fill="#ee8e2c"/>
<path d="M369.90,38.48 L375.50,38.48 L372.70,43.52 Z" fill="#ee8e2c"/>
<path d="M389.20,33.78 L394.80,33.78 L392.00,38.82 Z" fill="#ee8e2c"/>
<path d="M409.20,36.98 L414.80,36.98 L412.00,42.02 Z" fill="#ee8e2c"/>
<path d="M428.90,29.18 L434.50,29.18 L431.70,34.22 Z" fill="#ee8e2c"/>
<path d="M448.70,40.78 L454.30,40.78 L451.50,45.82 Z" fill="#ee8e2c"/>
<path d="M468.60,31.18 L474.20,31.18 L471.40,36.22 Z" fill="#ee8e2c"/>
<path d="M488.20,31.18 L493.80,31.18 L491.00,36.22 Z" fill="#ee8e2c"/>
<rect x="330.30" y="51.30" width="5.40" height="5.40" fill="#1b7a3d"/>
<rect x="350.10" y="48.60" width="5.40" height="5.40" fill="#1b7a3d"/>
<rect x="370.00" y="38.80" width="5.40" height="5.40" fill="#1b7a3d"/>
<rect x="389.30" y="36.80" width="5.40" height="5.40" fill="#1b7a3d"/>
<rect x="409.30" y="78.30" width="5.40" height="5.40" fill="#1b7a3d"/>
<rect x="429.00" y="137.80" width="5.40" height="5.40" fill="#1b7a3d"/>
<rect x="448.80" y="137.80" width="5.40" height="5.40" fill="#1b7a3d"/>
<rect x="468.70" y="135.20" width="5.40" height="5.40" fill="#1b7a3d"/>
<rect x="488.30" y="126.30" width="5.40" height="5.40" fill="#1b7a3d"/>
<circle cx="333.00" cy="46.00" r="2.70" fill="#1f3f84"/>
<circle cx="352.80" cy="40.50" r="2.70" fill="#1f3f84"/>
<circle cx="372.70" cy="49.50" r="2.70" fill="#1f3f84"/>
<circle cx="392.00" cy="38.30" r="2.70" fill="#1f3f84"/>
<circle cx="412.00" cy="59.00" r="2.70" fill="#1f3f84"/>
<circle cx="431.70" cy="96.00" r="2.70" fill="#1f3f84"/>
<circle cx="451.50" cy="106.50" r="2.70" fill="#1f3f84"/>
<circle cx="471.40" cy="104.30" r="2.70" fill="#1f3f84"/>
<circle cx="491.00" cy="108.20" r="2.70" fill="#1f3f84"/>
<line x1="319.00" y1="113.70" x2="333.00" y2="113.70" stroke="#1f3f84" stroke-width="1.7"/>
<circle cx="326.00" cy="113.70" r="2.60" fill="#1f3f84"/>
<text x="340.80" y="117.30" font-size="10.75" font-weight="normal" text-anchor="start" fill="#262626">Patient 1</text>
<line x1="319.00" y1="128.70" x2="333.00" y2="128.70" stroke="#1b7a3d" stroke-width="1.7"/>
<rect x="323.50" y="126.20" width="5.00" height="5.00" fill="#1b7a3d"/>
<text x="340.80" y="132.80" font-size="10.75" font-weight="normal" text-anchor="start" fill="#262626">Patient 2</text>
<line x1="319.00" y1="144.40" x2="333.00" y2="144.40" stroke="#ee8e2c" stroke-width="1.7"/>
<path d="M323.50,142.15 L328.50,142.15 L326.00,146.65 Z" fill="#ee8e2c"/>
<text x="340.80" y="148.60" font-size="10.75" font-weight="normal" text-anchor="start" fill="#262626">Patient 3</text>
<line x1="49.90" y1="237.20" x2="49.90" y2="370.40" stroke="#111" stroke-width="1.8"/>
<line x1="46.10" y1="238.00" x2="49.90" y2="238.00" stroke="#111" stroke-width="1.5"/>
<text x="44.70" y="241.30" font-size="9.30" font-weight="bold" text-anchor="end" fill="#111">125</text>
<line x1="46.10" y1="262.36" x2="49.90" y2="262.36" stroke="#111" stroke-width="1.5"/>
<text x="44.70" y="265.66" font-size="9.30" font-weight="bold" text-anchor="end" fill="#111">100</text>
<line x1="46.10" y1="286.72" x2="49.90" y2="286.72" stroke="#111" stroke-width="1.5"/>
<text x="44.70" y="290.02" font-size="9.30" font-weight="bold" text-anchor="end" fill="#111">75</text>
<line x1="46.10" y1="311.08" x2="49.90" y2="311.08" stroke="#111" stroke-width="1.5"/>
<text x="44.70" y="314.38" font-size="9.30" font-weight="bold" text-anchor="end" fill="#111">50</text>
<line x1="46.10" y1="335.44" x2="49.90" y2="335.44" stroke="#111" stroke-width="1.5"/>
<text x="44.70" y="338.74" font-size="9.30" font-weight="bold" text-anchor="end" fill="#111">25</text>
<line x1="46.10" y1="359.80" x2="49.90" y2="359.80" stroke="#111" stroke-width="1.5"/>
<text x="44.70" y="363.10" font-size="9.30" font-weight="bold" text-anchor="end" fill="#111">0</text>
<line x1="49.10" y1="369.60" x2="248.28" y2="369.60" stroke="#111" stroke-width="1.8"/>
<line x1="49.90" y1="369.60" x2="49.90" y2="373.10" stroke="#111" stroke-width="1.6"/>
<line x1="59.81" y1="369.60" x2="59.81" y2="371.90" stroke="#111" stroke-width="1.2"/>
<line x1="65.61" y1="369.60" x2="65.61" y2="371.90" stroke="#111" stroke-width="1.2"/>
<line x1="69.73" y1="369.60" x2="69.73" y2="371.90" stroke="#111" stroke-width="1.2"/>
<line x1="72.92" y1="369.60" x2="72.92" y2="371.90" stroke="#111" stroke-width="1.2"/>
<line x1="75.52" y1="369.60" x2="75.52" y2="371.90" stroke="#111" stroke-width="1.2"/>
<line x1="77.73" y1="369.60" x2="77.73" y2="371.90" stroke="#111" stroke-width="1.2"/>
<line x1="79.64" y1="369.60" x2="79.64" y2="371.90" stroke="#111" stroke-width="1.2"/>
<line x1="81.32" y1="369.60" x2="81.32" y2="371.90" stroke="#111" stroke-width="1.2"/>
<line x1="82.83" y1="369.60" x2="82.83" y2="373.10" stroke="#111" stroke-width="1.6"/>
<line x1="92.74" y1="369.60" x2="92.74" y2="371.90" stroke="#111" stroke-width="1.2"/>
<line x1="98.54" y1="369.60" x2="98.54" y2="371.90" stroke="#111" stroke-width="1.2"/>
<line x1="102.66" y1="369.60" x2="102.66" y2="371.90" stroke="#111" stroke-width="1.2"/>
<line x1="105.85" y1="369.60" x2="105.85" y2="371.90" stroke="#111" stroke-width="1.2"/>
<line x1="108.45" y1="369.60" x2="108.45" y2="371.90" stroke="#111" stroke-width="1.2"/>
<line x1="110.66" y1="369.60" x2="110.66" y2="371.90" stroke="#111" stroke-width="1.2"/>
<line x1="112.57" y1="369.60" x2="112.57" y2="371.90" stroke="#111" stroke-width="1.2"/>
<line x1="114.25" y1="369.60" x2="114.25" y2="371.90" stroke="#111" stroke-width="1.2"/>
<line x1="115.76" y1="369.60" x2="115.76" y2="373.10" stroke="#111" stroke-width="1.6"/>
<line x1="125.67" y1="369.60" x2="125.67" y2="371.90" stroke="#111" stroke-width="1.2"/>
<line x1="131.47" y1="369.60" x2="131.47" y2="371.90" stroke="#111" stroke-width="1.2"/>
<line x1="135.59" y1="369.60" x2="135.59" y2="371.90" stroke="#111" stroke-width="1.2"/>
<line x1="138.78" y1="369.60" x2="138.78" y2="371.90" stroke="#111" stroke-width="1.2"/>
<line x1="141.38" y1="369.60" x2="141.38" y2="371.90" stroke="#111" stroke-width="1.2"/>
<line x1="143.59" y1="369.60" x2="143.59" y2="371.90" stroke="#111" stroke-width="1.2"/>
<line x1="145.50" y1="369.60" x2="145.50" y2="371.90" stroke="#111" stroke-width="1.2"/>
<line x1="147.18" y1="369.60" x2="147.18" y2="371.90" stroke="#111" stroke-width="1.2"/>
<line x1="148.69" y1="369.60" x2="148.69" y2="373.10" stroke="#111" stroke-width="1.6"/>
<line x1="158.60" y1="369.60" x2="158.60" y2="371.90" stroke="#111" stroke-width="1.2"/>
<line x1="164.40" y1="369.60" x2="164.40" y2="371.90" stroke="#111" stroke-width="1.2"/>
<line x1="168.52" y1="369.60" x2="168.52" y2="371.90" stroke="#111" stroke-width="1.2"/>
<line x1="171.71" y1="369.60" x2="171.71" y2="371.90" stroke="#111" stroke-width="1.2"/>
<line x1="174.31" y1="369.60" x2="174.31" y2="371.90" stroke="#111" stroke-width="1.2"/>
<line x1="176.52" y1="369.60" x2="176.52" y2="371.90" stroke="#111" stroke-width="1.2"/>
<line x1="178.43" y1="369.60" x2="178.43" y2="371.90" stroke="#111" stroke-width="1.2"/>
<line x1="180.11" y1="369.60" x2="180.11" y2="371.90" stroke="#111" stroke-width="1.2"/>
<line x1="181.62" y1="369.60" x2="181.62" y2="373.10" stroke="#111" stroke-width="1.6"/>
<line x1="191.53" y1="369.60" x2="191.53" y2="371.90" stroke="#111" stroke-width="1.2"/>
<line x1="197.33" y1="369.60" x2="197.33" y2="371.90" stroke="#111" stroke-width="1.2"/>
<line x1="201.45" y1="369.60" x2="201.45" y2="371.90" stroke="#111" stroke-width="1.2"/>
<line x1="204.64" y1="369.60" x2="204.64" y2="371.90" stroke="#111" stroke-width="1.2"/>
<line x1="207.24" y1="369.60" x2="207.24" y2="371.90" stroke="#111" stroke-width="1.2"/>
<line x1="209.45" y1="369.60" x2="209.45" y2="371.90" stroke="#111" stroke-width="1.2"/>
<line x1="211.36" y1="369.60" x2="211.36" y2="371.90" stroke="#111" stroke-width="1.2"/>
<line x1="213.04" y1="369.60" x2="213.04" y2="371.90" stroke="#111" stroke-width="1.2"/>
<line x1="214.55" y1="369.60" x2="214.55" y2="373.10" stroke="#111" stroke-width="1.6"/>
<line x1="224.46" y1="369.60" x2="224.46" y2="371.90" stroke="#111" stroke-width="1.2"/>
<line x1="230.26" y1="369.60" x2="230.26" y2="371.90" stroke="#111" stroke-width="1.2"/>
<line x1="234.38" y1="369.60" x2="234.38" y2="371.90" stroke="#111" stroke-width="1.2"/>
<line x1="237.57" y1="369.60" x2="237.57" y2="371.90" stroke="#111" stroke-width="1.2"/>
<line x1="240.17" y1="369.60" x2="240.17" y2="371.90" stroke="#111" stroke-width="1.2"/>
<line x1="242.38" y1="369.60" x2="242.38" y2="371.90" stroke="#111" stroke-width="1.2"/>
<line x1="244.29" y1="369.60" x2="244.29" y2="371.90" stroke="#111" stroke-width="1.2"/>
<line x1="245.97" y1="369.60" x2="245.97" y2="371.90" stroke="#111" stroke-width="1.2"/>
<line x1="247.48" y1="369.60" x2="247.48" y2="373.10" stroke="#111" stroke-width="1.6"/>
<text x="49.20" y="383.00" font-size="9.30" font-weight="bold" text-anchor="middle" fill="#111">0.001</text>
<text x="82.20" y="383.00" font-size="9.30" font-weight="bold" text-anchor="middle" fill="#111">0.01</text>
<text x="115.20" y="383.00" font-size="9.30" font-weight="bold" text-anchor="middle" fill="#111">0.1</text>
<text x="148.20" y="383.00" font-size="9.30" font-weight="bold" text-anchor="middle" fill="#111">1</text>
<text x="181.10" y="383.00" font-size="9.30" font-weight="bold" text-anchor="middle" fill="#111">10</text>
<text x="213.90" y="383.00" font-size="9.30" font-weight="bold" text-anchor="middle" fill="#111">100</text>
<text x="244.90" y="383.00" font-size="9.30" font-weight="bold" text-anchor="middle" fill="#111">1,000</text>
<text transform="translate(8.00,304.30) rotate(-90)" font-size="10.80" font-weight="bold" text-anchor="middle" fill="#111">% Live myeloma cells</text>
<text transform="translate(21.30,304.30) rotate(-90)" font-size="11.00" font-weight="bold" text-anchor="middle" fill="#111">(normalized to untreated)</text>
<text x="103.10" y="400.60" font-size="10.85" font-weight="bold" text-anchor="start" fill="#111">BCMA ADC (nmol/L)</text>
<path d="M69.50,259.48 L70.50,259.47 L71.50,259.47 L72.50,259.47 L73.50,259.46 L74.50,259.46 L75.50,259.45 L76.50,259.44 L77.50,259.44 L78.50,259.43 L79.50,259.42 L80.50,259.42 L81.50,259.41 L82.50,259.40 L83.50,259.39 L84.50,259.37 L85.50,259.36 L86.50,259.35 L87.50,259.33 L88.50,259.32 L89.50,259.30 L90.50,259.28 L91.50,259.26 L92.50,259.24 L93.50,259.22 L94.50,259.20 L95.50,259.17 L96.50,259.14 L97.50,259.11 L98.50,259.08 L99.50,259.04 L100.50,259.00 L101.50,258.96 L102.50,258.92 L103.50,258.87 L104.50,258.82 L105.50,258.77 L106.50,258.71 L107.50,258.65 L108.50,258.59 L109.50,258.52 L110.50,258.45 L111.50,258.37 L112.50,258.29 L113.50,258.21 L114.50,258.12 L115.50,258.03 L116.50,257.94 L117.50,257.84 L118.50,257.74 L119.50,257.64 L120.50,257.53 L121.50,257.42 L122.50,257.31 L123.50,257.20 L124.50,257.08 L125.50,256.96 L126.50,256.85 L127.50,256.73 L128.50,256.61 L129.50,256.50 L130.50,256.38 L131.50,256.26 L132.50,256.15 L133.50,256.04 L134.50,255.93 L135.50,255.82 L136.50,255.72 L137.50,255.62 L138.50,255.52 L139.50,255.43 L140.50,255.34 L141.50,255.25 L142.50,255.17 L143.50,255.09 L144.50,255.02 L145.50,254.95 L146.50,254.88 L147.50,254.82 L148.50,254.76 L149.50,254.70 L150.50,254.65 L151.50,254.60 L152.50,254.55 L153.50,254.51 L154.50,254.47 L155.50,254.43 L156.50,254.39 L157.50,254.36 L158.50,254.33 L159.50,254.30 L160.50,254.28 L161.50,254.25 L162.50,254.23 L163.50,254.21 L164.50,254.19 L165.50,254.17 L166.50,254.15 L167.50,254.14 L168.50,254.12 L169.50,254.11 L170.50,254.10 L171.50,254.09 L172.50,254.08 L173.50,254.07 L174.50,254.06 L175.50,254.05 L176.50,254.04 L177.50,254.03 L178.50,254.03 L179.50,254.02 L180.50,254.02 L181.50,254.01 L182.50,254.01 L183.50,254.00 L184.50,254.00 L185.50,254.00 L186.50,253.99 L187.50,253.99 L188.50,253.99 L189.50,253.98 L190.50,253.98 L191.50,253.98 L192.50,253.98 L193.50,253.98 L194.50,253.97 L195.50,253.97 L196.50,253.97 L197.50,253.97 L198.50,253.97 L199.50,253.97 L200.50,253.97 L201.50,253.97 L202.50,253.96 L203.50,253.96 L204.50,253.96 L205.50,253.96 L206.50,253.96 L207.50,253.96 L208.50,253.96 L209.50,253.96 L210.50,253.96 L211.50,253.96 L212.50,253.96 L213.50,253.96 L214.50,253.96 L215.50,253.96 L216.50,253.96 L217.50,253.96 L218.50,253.96 L219.50,253.96 L220.50,253.96 L221.50,253.96 L222.50,253.96 L223.50,253.96 L224.50,253.96 L225.50,253.96 L226.50,253.96 L227.50,253.96" fill="none" stroke="#ee8e2c" stroke-width="2.00" stroke-linejoin="round" stroke-linecap="round"/>
<path d="M69.50,261.56 L70.50,261.61 L71.50,261.68 L72.50,261.74 L73.50,261.81 L74.50,261.89 L75.50,261.97 L76.50,262.06 L77.50,262.15 L78.50,262.25 L79.50,262.35 L80.50,262.47 L81.50,262.59 L82.50,262.72 L83.50,262.85 L84.50,263.00 L85.50,263.16 L86.50,263.32 L87.50,263.50 L88.50,263.69 L89.50,263.90 L90.50,264.11 L91.50,264.34 L92.50,264.59 L93.50,264.85 L94.50,265.13 L95.50,265.42 L96.50,265.73 L97.50,266.07 L98.50,266.42 L99.50,266.80 L100.50,267.20 L101.50,267.62 L102.50,268.06 L103.50,268.54 L104.50,269.04 L105.50,269.56 L106.50,270.12 L107.50,270.71 L108.50,271.32 L109.50,271.97 L110.50,272.66 L111.50,273.37 L112.50,274.13 L113.50,274.91 L114.50,275.74 L115.50,276.59 L116.50,277.49 L117.50,278.42 L118.50,279.39 L119.50,280.39 L120.50,281.43 L121.50,282.51 L122.50,283.62 L123.50,284.76 L124.50,285.93 L125.50,287.13 L126.50,288.36 L127.50,289.62 L128.50,290.90 L129.50,292.21 L130.50,293.53 L131.50,294.87 L132.50,296.22 L133.50,297.58 L134.50,298.94 L135.50,300.32 L136.50,301.69 L137.50,303.06 L138.50,304.42 L139.50,305.77 L140.50,307.11 L141.50,308.44 L142.50,309.74 L143.50,311.03 L144.50,312.29 L145.50,313.53 L146.50,314.74 L147.50,315.91 L148.50,317.06 L149.50,318.18 L150.50,319.26 L151.50,320.31 L152.50,321.32 L153.50,322.29 L154.50,323.23 L155.50,324.13 L156.50,325.00 L157.50,325.83 L158.50,326.62 L159.50,327.38 L160.50,328.10 L161.50,328.79 L162.50,329.45 L163.50,330.07 L164.50,330.66 L165.50,331.23 L166.50,331.76 L167.50,332.26 L168.50,332.74 L169.50,333.19 L170.50,333.62 L171.50,334.02 L172.50,334.40 L173.50,334.76 L174.50,335.10 L175.50,335.41 L176.50,335.71 L177.50,335.99 L178.50,336.26 L179.50,336.51 L180.50,336.74 L181.50,336.96 L182.50,337.16 L183.50,337.36 L184.50,337.54 L185.50,337.71 L186.50,337.86 L187.50,338.01 L188.50,338.15 L189.50,338.28 L190.50,338.41 L191.50,338.52 L192.50,338.63 L193.50,338.73 L194.50,338.82 L195.50,338.91 L196.50,338.99 L197.50,339.07 L198.50,339.14 L199.50,339.21 L200.50,339.27 L201.50,339.33 L202.50,339.38 L203.50,339.43 L204.50,339.48 L205.50,339.52 L206.50,339.57 L207.50,339.61 L208.50,339.64 L209.50,339.68 L210.50,339.71 L211.50,339.74 L212.50,339.76 L213.50,339.79 L214.50,339.81 L215.50,339.84 L216.50,339.86 L217.50,339.88 L218.50,339.90 L219.50,339.91 L220.50,339.93 L221.50,339.94 L222.50,339.96 L223.50,339.97 L224.50,339.98 L225.50,339.99 L226.50,340.01 L227.50,340.02" fill="none" stroke="#1b7a3d" stroke-width="2.00" stroke-linejoin="round" stroke-linecap="round"/>
<path d="M69.50,260.42 L70.50,260.43 L71.50,260.45 L72.50,260.46 L73.50,260.48 L74.50,260.50 L75.50,260.52 L76.50,260.54 L77.50,260.56 L78.50,260.58 L79.50,260.61 L80.50,260.64 L81.50,260.67 L82.50,260.70 L83.50,260.73 L84.50,260.77 L85.50,260.81 L86.50,260.85 L87.50,260.90 L88.50,260.95 L89.50,261.00 L90.50,261.06 L91.50,261.12 L92.50,261.19 L93.50,261.26 L94.50,261.33 L95.50,261.41 L96.50,261.50 L97.50,261.59 L98.50,261.69 L99.50,261.80 L100.50,261.92 L101.50,262.04 L102.50,262.17 L103.50,262.31 L104.50,262.47 L105.50,262.63 L106.50,262.80 L107.50,262.99 L108.50,263.19 L109.50,263.40 L110.50,263.63 L111.50,263.87 L112.50,264.13 L113.50,264.41 L114.50,264.70 L115.50,265.02 L116.50,265.36 L117.50,265.71 L118.50,266.09 L119.50,266.50 L120.50,266.93 L121.50,267.39 L122.50,267.87 L123.50,268.38 L124.50,268.93 L125.50,269.50 L126.50,270.11 L127.50,270.75 L128.50,271.42 L129.50,272.13 L130.50,272.88 L131.50,273.66 L132.50,274.48 L133.50,275.34 L134.50,276.24 L135.50,277.17 L136.50,278.15 L137.50,279.16 L138.50,280.20 L139.50,281.29 L140.50,282.41 L141.50,283.56 L142.50,284.75 L143.50,285.96 L144.50,287.21 L145.50,288.48 L146.50,289.77 L147.50,291.08 L148.50,292.41 L149.50,293.76 L150.50,295.11 L151.50,296.47 L152.50,297.84 L153.50,299.20 L154.50,300.57 L155.50,301.92 L156.50,303.27 L157.50,304.60 L158.50,305.91 L159.50,307.20 L160.50,308.47 L161.50,309.71 L162.50,310.93 L163.50,312.11 L164.50,313.26 L165.50,314.38 L166.50,315.47 L167.50,316.51 L168.50,317.52 L169.50,318.49 L170.50,319.43 L171.50,320.32 L172.50,321.18 L173.50,322.00 L174.50,322.78 L175.50,323.53 L176.50,324.24 L177.50,324.91 L178.50,325.55 L179.50,326.15 L180.50,326.73 L181.50,327.27 L182.50,327.78 L183.50,328.27 L184.50,328.72 L185.50,329.15 L186.50,329.56 L187.50,329.94 L188.50,330.29 L189.50,330.63 L190.50,330.94 L191.50,331.24 L192.50,331.52 L193.50,331.77 L194.50,332.02 L195.50,332.24 L196.50,332.46 L197.50,332.66 L198.50,332.84 L199.50,333.02 L200.50,333.18 L201.50,333.33 L202.50,333.47 L203.50,333.60 L204.50,333.73 L205.50,333.84 L206.50,333.95 L207.50,334.05 L208.50,334.14 L209.50,334.23 L210.50,334.31 L211.50,334.38 L212.50,334.46 L213.50,334.52 L214.50,334.58 L215.50,334.64 L216.50,334.69 L217.50,334.74 L218.50,334.79 L219.50,334.83 L220.50,334.87 L221.50,334.91 L222.50,334.94 L223.50,334.97 L224.50,335.00 L225.50,335.03 L226.50,335.06 L227.50,335.08" fill="none" stroke="#1d2f78" stroke-width="2.00" stroke-linejoin="round" stroke-linecap="round"/>
<path d="M66.70,256.98 L72.30,256.98 L69.50,262.02 Z" fill="#ee8e2c"/>
<path d="M86.50,252.98 L92.10,252.98 L89.30,258.02 Z" fill="#ee8e2c"/>
<path d="M106.40,258.48 L112.00,258.48 L109.20,263.52 Z" fill="#ee8e2c"/>
<path d="M125.70,255.98 L131.30,255.98 L128.50,261.02 Z" fill="#ee8e2c"/>
<path d="M145.70,248.28 L151.30,248.28 L148.50,253.32 Z" fill="#ee8e2c"/>
<path d="M165.50,254.98 L171.10,254.98 L168.30,260.02 Z" fill="#ee8e2c"/>
<path d="M185.20,250.48 L190.80,250.48 L188.00,255.52 Z" fill="#ee8e2c"/>
<path d="M204.90,248.48 L210.50,248.48 L207.70,253.52 Z" fill="#ee8e2c"/>
<path d="M224.50,253.48 L230.10,253.48 L227.30,258.52 Z" fill="#ee8e2c"/>
<rect x="66.80" y="287.70" width="5.40" height="5.40" fill="#1b7a3d"/>
<rect x="86.60" y="240.80" width="5.40" height="5.40" fill="#1b7a3d"/>
<rect x="106.50" y="267.80" width="5.40" height="5.40" fill="#1b7a3d"/>
<rect x="125.80" y="269.30" width="5.40" height="5.40" fill="#1b7a3d"/>
<rect x="145.80" y="330.30" width="5.40" height="5.40" fill="#1b7a3d"/>
<rect x="165.60" y="344.10" width="5.40" height="5.40" fill="#1b7a3d"/>
<rect x="185.30" y="332.70" width="5.40" height="5.40" fill="#1b7a3d"/>
<rect x="205.00" y="328.30" width="5.40" height="5.40" fill="#1b7a3d"/>
<rect x="224.60" y="332.10" width="5.40" height="5.40" fill="#1b7a3d"/>
<circle cx="69.50" cy="260.50" r="2.70" fill="#1f3f84"/>
<circle cx="89.30" cy="274.00" r="2.70" fill="#1f3f84"/>
<circle cx="109.20" cy="245.50" r="2.70" fill="#1f3f84"/>
<circle cx="128.50" cy="272.00" r="2.70" fill="#1f3f84"/>
<circle cx="148.50" cy="303.60" r="2.70" fill="#1f3f84"/>
<circle cx="168.30" cy="310.50" r="2.70" fill="#1f3f84"/>
<circle cx="188.00" cy="323.00" r="2.70" fill="#1f3f84"/>
<circle cx="207.70" cy="334.20" r="2.70" fill="#1f3f84"/>
<circle cx="227.30" cy="344.60" r="2.70" fill="#1f3f84"/>
<line x1="55.00" y1="328.50" x2="68.80" y2="328.50" stroke="#1f3f84" stroke-width="1.7"/>
<circle cx="61.90" cy="328.50" r="2.60" fill="#1f3f84"/>
<text x="75.80" y="331.80" font-size="10.75" font-weight="normal" text-anchor="start" fill="#262626">Patient 1</text>
<line x1="55.00" y1="343.80" x2="68.80" y2="343.80" stroke="#1b7a3d" stroke-width="1.7"/>
<rect x="59.40" y="341.30" width="5.00" height="5.00" fill="#1b7a3d"/>
<text x="75.80" y="347.50" font-size="10.75" font-weight="normal" text-anchor="start" fill="#262626">Patient 2</text>
<line x1="55.00" y1="358.30" x2="68.80" y2="358.30" stroke="#ee8e2c" stroke-width="1.7"/>
<path d="M59.40,356.05 L64.40,356.05 L61.90,360.55 Z" fill="#ee8e2c"/>
<text x="75.80" y="362.00" font-size="10.75" font-weight="normal" text-anchor="start" fill="#262626">Patient 3</text>
<path d="M311.30,205.20 H393.30 V286.70" fill="none" stroke="#cfcfcf" stroke-width="0.9"/>
<path d="M312.60,286.60 C312.87,286.17 313.72,285.77 314.20,284.00 C314.68,282.23 315.07,279.00 315.50,276.00 C315.93,273.00 316.40,269.67 316.80,266.00 C317.20,262.33 317.53,258.33 317.90,254.00 C318.27,249.67 318.57,244.58 319.00,240.00 C319.43,235.42 320.02,226.50 320.50,226.50 C320.98,226.50 321.42,235.08 321.90,240.00 C322.38,244.92 322.92,251.33 323.40,256.00 C323.88,260.67 324.28,264.58 324.80,268.00 C325.32,271.42 325.88,274.25 326.50,276.50 C327.12,278.75 327.62,280.15 328.50,281.50 C329.38,282.85 330.55,283.82 331.80,284.60 C333.05,285.38 334.80,285.87 336.00,286.20 C337.20,286.53 338.50,286.53 339.00,286.60 Z" fill="#ababab" stroke="none"/>
<line x1="311.30" y1="205.20" x2="311.30" y2="286.70" stroke="#8a8a8a" stroke-width="0.7"/>
<line x1="309.50" y1="285.90" x2="311.30" y2="285.90" stroke="#444" stroke-width="0.9"/>
<text x="307.50" y="287.40" font-size="4.2" font-weight="bold" text-anchor="end" fill="#4a4a4a">0</text>
<line x1="310.30" y1="282.06" x2="311.30" y2="282.06" stroke="#777" stroke-width="0.6"/>
<line x1="310.30" y1="278.23" x2="311.30" y2="278.23" stroke="#777" stroke-width="0.6"/>
<line x1="310.30" y1="274.39" x2="311.30" y2="274.39" stroke="#777" stroke-width="0.6"/>
<line x1="309.50" y1="270.56" x2="311.30" y2="270.56" stroke="#444" stroke-width="0.9"/>
<text x="307.50" y="272.06" font-size="4.2" font-weight="bold" text-anchor="end" fill="#4a4a4a">20</text>
<line x1="310.30" y1="266.72" x2="311.30" y2="266.72" stroke="#777" stroke-width="0.6"/>
<line x1="310.30" y1="262.89" x2="311.30" y2="262.89" stroke="#777" stroke-width="0.6"/>
<line x1="310.30" y1="259.06" x2="311.30" y2="259.06" stroke="#777" stroke-width="0.6"/>
<line x1="309.50" y1="255.22" x2="311.30" y2="255.22" stroke="#444" stroke-width="0.9"/>
<text x="307.50" y="256.72" font-size="4.2" font-weight="bold" text-anchor="end" fill="#4a4a4a">40</text>
<line x1="310.30" y1="251.38" x2="311.30" y2="251.38" stroke="#777" stroke-width="0.6"/>
<line x1="310.30" y1="247.55" x2="311.30" y2="247.55" stroke="#777" stroke-width="0.6"/>
<line x1="310.30" y1="243.71" x2="311.30" y2="243.71" stroke="#777" stroke-width="0.6"/>
<line x1="309.50" y1="239.88" x2="311.30" y2="239.88" stroke="#444" stroke-width="0.9"/>
<text x="307.50" y="241.38" font-size="4.2" font-weight="bold" text-anchor="end" fill="#4a4a4a">60</text>
<line x1="310.30" y1="236.04" x2="311.30" y2="236.04" stroke="#777" stroke-width="0.6"/>
<line x1="310.30" y1="232.21" x2="311.30" y2="232.21" stroke="#777" stroke-width="0.6"/>
<line x1="310.30" y1="228.38" x2="311.30" y2="228.38" stroke="#777" stroke-width="0.6"/>
<line x1="309.50" y1="224.54" x2="311.30" y2="224.54" stroke="#444" stroke-width="0.9"/>
<text x="307.50" y="226.04" font-size="4.2" font-weight="bold" text-anchor="end" fill="#4a4a4a">80</text>
<line x1="310.30" y1="220.70" x2="311.30" y2="220.70" stroke="#777" stroke-width="0.6"/>
<line x1="310.30" y1="216.87" x2="311.30" y2="216.87" stroke="#777" stroke-width="0.6"/>
<line x1="310.30" y1="213.03" x2="311.30" y2="213.03" stroke="#777" stroke-width="0.6"/>
<line x1="309.50" y1="209.20" x2="311.30" y2="209.20" stroke="#444" stroke-width="0.9"/>
<text x="307.50" y="210.70" font-size="4.2" font-weight="bold" text-anchor="end" fill="#4a4a4a">100</text>
<line x1="311.30" y1="286.70" x2="393.30" y2="286.70" stroke="#8a8a8a" stroke-width="0.7"/>
<line x1="317.70" y1="286.70" x2="317.70" y2="288.50" stroke="#555" stroke-width="0.6"/>
<line x1="350.00" y1="286.70" x2="350.00" y2="288.50" stroke="#555" stroke-width="0.6"/>
<line x1="368.30" y1="286.70" x2="368.30" y2="288.50" stroke="#555" stroke-width="0.6"/>
<line x1="386.90" y1="286.70" x2="386.90" y2="288.50" stroke="#555" stroke-width="0.6"/>
<line x1="355.51" y1="286.70" x2="355.51" y2="287.70" stroke="#666" stroke-width="0.5"/>
<line x1="358.73" y1="286.70" x2="358.73" y2="287.70" stroke="#666" stroke-width="0.5"/>
<line x1="361.02" y1="286.70" x2="361.02" y2="287.70" stroke="#666" stroke-width="0.5"/>
<line x1="362.79" y1="286.70" x2="362.79" y2="287.70" stroke="#666" stroke-width="0.5"/>
<line x1="364.24" y1="286.70" x2="364.24" y2="287.70" stroke="#666" stroke-width="0.5"/>
<line x1="365.47" y1="286.70" x2="365.47" y2="287.70" stroke="#666" stroke-width="0.5"/>
<line x1="366.53" y1="286.70" x2="366.53" y2="287.70" stroke="#666" stroke-width="0.5"/>
<line x1="367.46" y1="286.70" x2="367.46" y2="287.70" stroke="#666" stroke-width="0.5"/>
<line x1="373.90" y1="286.70" x2="373.90" y2="287.70" stroke="#666" stroke-width="0.5"/>
<line x1="377.17" y1="286.70" x2="377.17" y2="287.70" stroke="#666" stroke-width="0.5"/>
<line x1="379.50" y1="286.70" x2="379.50" y2="287.70" stroke="#666" stroke-width="0.5"/>
<line x1="381.30" y1="286.70" x2="381.30" y2="287.70" stroke="#666" stroke-width="0.5"/>
<line x1="382.77" y1="286.70" x2="382.77" y2="287.70" stroke="#666" stroke-width="0.5"/>
<line x1="384.02" y1="286.70" x2="384.02" y2="287.70" stroke="#666" stroke-width="0.5"/>
<line x1="385.10" y1="286.70" x2="385.10" y2="287.70" stroke="#666" stroke-width="0.5"/>
<line x1="386.05" y1="286.70" x2="386.05" y2="287.70" stroke="#666" stroke-width="0.5"/>
<line x1="320.93" y1="286.70" x2="320.93" y2="287.70" stroke="#666" stroke-width="0.5"/>
<line x1="324.16" y1="286.70" x2="324.16" y2="287.70" stroke="#666" stroke-width="0.5"/>
<line x1="327.39" y1="286.70" x2="327.39" y2="287.70" stroke="#666" stroke-width="0.5"/>
<line x1="330.62" y1="286.70" x2="330.62" y2="287.70" stroke="#666" stroke-width="0.5"/>
<line x1="333.85" y1="286.70" x2="333.85" y2="287.70" stroke="#666" stroke-width="0.5"/>
<line x1="337.08" y1="286.70" x2="337.08" y2="287.70" stroke="#666" stroke-width="0.5"/>
<line x1="340.31" y1="286.70" x2="340.31" y2="287.70" stroke="#666" stroke-width="0.5"/>
<line x1="343.54" y1="286.70" x2="343.54" y2="287.70" stroke="#666" stroke-width="0.5"/>
<line x1="346.77" y1="286.70" x2="346.77" y2="287.70" stroke="#666" stroke-width="0.5"/>
<text x="317.70" y="294.10" font-size="4.0" font-weight="bold" text-anchor="middle" fill="#4a4a4a">0</text>
<text x="350.00" y="294.10" font-size="4.0" font-weight="bold" text-anchor="middle" fill="#4a4a4a">10<tspan dy="-1.8" font-size="3.0">3</tspan></text>
<text x="368.30" y="294.10" font-size="4.0" font-weight="bold" text-anchor="middle" fill="#4a4a4a">10<tspan dy="-1.8" font-size="3.0">4</tspan></text>
<text x="386.90" y="294.10" font-size="4.0" font-weight="bold" text-anchor="middle" fill="#4a4a4a">10<tspan dy="-1.8" font-size="3.0">5</tspan></text>
<path d="M311.60,286.40 C312.33,286.40 314.85,286.58 316.00,286.40 C317.15,286.22 317.58,286.03 318.50,285.30 C319.42,284.57 320.50,283.55 321.50,282.00 C322.50,280.45 323.70,278.33 324.50,276.00 C325.30,273.67 325.78,271.33 326.30,268.00 C326.82,264.67 327.20,259.43 327.60,256.00 C328.00,252.57 328.20,248.47 328.70,247.40 C329.20,246.33 329.95,250.20 330.60,249.60 C331.25,249.00 332.00,243.73 332.60,243.80 C333.20,243.87 333.63,247.72 334.20,250.00 C334.77,252.28 335.37,254.58 336.00,257.50 C336.63,260.42 337.33,264.08 338.00,267.50 C338.67,270.92 339.37,275.25 340.00,278.00 C340.63,280.75 341.13,282.63 341.80,284.00 C342.47,285.37 343.13,285.77 344.00,286.20 C344.87,286.63 338.82,286.53 347.00,286.60 C355.18,286.67 385.42,286.60 393.10,286.60" fill="none" stroke="#0a0a0a" stroke-width="1.7" stroke-linejoin="round"/>
<text x="348.60" y="215.80" font-size="10.3" fill="#1a1a1a">Patient 1</text>
<text x="318.40" y="303.40" font-size="8.4" fill="#1a1a1a">BCMA expression</text>
<path d="M417.40,207.00 H497.90 V286.60" fill="none" stroke="#cfcfcf" stroke-width="0.9"/>
<path d="M423.00,286.60 C423.15,285.50 423.62,284.10 423.90,280.00 C424.18,275.90 424.43,268.67 424.70,262.00 C424.97,255.33 425.23,246.17 425.50,240.00 C425.77,233.83 426.07,228.67 426.30,225.00 C426.53,221.33 426.70,218.00 426.90,218.00 C427.10,218.00 427.27,221.33 427.50,225.00 C427.73,228.67 428.02,233.83 428.30,240.00 C428.58,246.17 428.85,255.67 429.20,262.00 C429.55,268.33 429.93,274.25 430.40,278.00 C430.87,281.75 431.32,283.07 432.00,284.50 C432.68,285.93 434.08,286.25 434.50,286.60 Z" fill="#ababab" stroke="none"/>
<line x1="417.40" y1="207.00" x2="417.40" y2="286.60" stroke="#8a8a8a" stroke-width="0.7"/>
<line x1="415.60" y1="285.80" x2="417.40" y2="285.80" stroke="#444" stroke-width="0.9"/>
<text x="413.60" y="287.30" font-size="4.2" font-weight="bold" text-anchor="end" fill="#4a4a4a">0</text>
<line x1="416.40" y1="282.06" x2="417.40" y2="282.06" stroke="#777" stroke-width="0.6"/>
<line x1="416.40" y1="278.32" x2="417.40" y2="278.32" stroke="#777" stroke-width="0.6"/>
<line x1="416.40" y1="274.58" x2="417.40" y2="274.58" stroke="#777" stroke-width="0.6"/>
<line x1="415.60" y1="270.84" x2="417.40" y2="270.84" stroke="#444" stroke-width="0.9"/>
<text x="413.60" y="272.34" font-size="4.2" font-weight="bold" text-anchor="end" fill="#4a4a4a">20</text>
<line x1="416.40" y1="267.10" x2="417.40" y2="267.10" stroke="#777" stroke-width="0.6"/>
<line x1="416.40" y1="263.36" x2="417.40" y2="263.36" stroke="#777" stroke-width="0.6"/>
<line x1="416.40" y1="259.62" x2="417.40" y2="259.62" stroke="#777" stroke-width="0.6"/>
<line x1="415.60" y1="255.88" x2="417.40" y2="255.88" stroke="#444" stroke-width="0.9"/>
<text x="413.60" y="257.38" font-size="4.2" font-weight="bold" text-anchor="end" fill="#4a4a4a">40</text>
<line x1="416.40" y1="252.14" x2="417.40" y2="252.14" stroke="#777" stroke-width="0.6"/>
<line x1="416.40" y1="248.40" x2="417.40" y2="248.40" stroke="#777" stroke-width="0.6"/>
<line x1="416.40" y1="244.66" x2="417.40" y2="244.66" stroke="#777" stroke-width="0.6"/>
<line x1="415.60" y1="240.92" x2="417.40" y2="240.92" stroke="#444" stroke-width="0.9"/>
<text x="413.60" y="242.42" font-size="4.2" font-weight="bold" text-anchor="end" fill="#4a4a4a">60</text>
<line x1="416.40" y1="237.18" x2="417.40" y2="237.18" stroke="#777" stroke-width="0.6"/>
<line x1="416.40" y1="233.44" x2="417.40" y2="233.44" stroke="#777" stroke-width="0.6"/>
<line x1="416.40" y1="229.70" x2="417.40" y2="229.70" stroke="#777" stroke-width="0.6"/>
<line x1="415.60" y1="225.96" x2="417.40" y2="225.96" stroke="#444" stroke-width="0.9"/>
<text x="413.60" y="227.46" font-size="4.2" font-weight="bold" text-anchor="end" fill="#4a4a4a">80</text>
<line x1="416.40" y1="222.22" x2="417.40" y2="222.22" stroke="#777" stroke-width="0.6"/>
<line x1="416.40" y1="218.48" x2="417.40" y2="218.48" stroke="#777" stroke-width="0.6"/>
<line x1="416.40" y1="214.74" x2="417.40" y2="214.74" stroke="#777" stroke-width="0.6"/>
<line x1="415.60" y1="211.00" x2="417.40" y2="211.00" stroke="#444" stroke-width="0.9"/>
<text x="413.60" y="212.50" font-size="4.2" font-weight="bold" text-anchor="end" fill="#4a4a4a">100</text>
<line x1="417.40" y1="286.60" x2="497.90" y2="286.60" stroke="#8a8a8a" stroke-width="0.7"/>
<line x1="426.50" y1="286.60" x2="426.50" y2="288.40" stroke="#555" stroke-width="0.6"/>
<line x1="454.30" y1="286.60" x2="454.30" y2="288.40" stroke="#555" stroke-width="0.6"/>
<line x1="474.00" y1="286.60" x2="474.00" y2="288.40" stroke="#555" stroke-width="0.6"/>
<line x1="492.00" y1="286.60" x2="492.00" y2="288.40" stroke="#555" stroke-width="0.6"/>
<line x1="460.23" y1="286.60" x2="460.23" y2="287.60" stroke="#666" stroke-width="0.5"/>
<line x1="463.70" y1="286.60" x2="463.70" y2="287.60" stroke="#666" stroke-width="0.5"/>
<line x1="466.16" y1="286.60" x2="466.16" y2="287.60" stroke="#666" stroke-width="0.5"/>
<line x1="468.07" y1="286.60" x2="468.07" y2="287.60" stroke="#666" stroke-width="0.5"/>
<line x1="469.63" y1="286.60" x2="469.63" y2="287.60" stroke="#666" stroke-width="0.5"/>
<line x1="470.95" y1="286.60" x2="470.95" y2="287.60" stroke="#666" stroke-width="0.5"/>
<line x1="472.09" y1="286.60" x2="472.09" y2="287.60" stroke="#666" stroke-width="0.5"/>
<line x1="473.10" y1="286.60" x2="473.10" y2="287.60" stroke="#666" stroke-width="0.5"/>
<line x1="479.42" y1="286.60" x2="479.42" y2="287.60" stroke="#666" stroke-width="0.5"/>
<line x1="482.59" y1="286.60" x2="482.59" y2="287.60" stroke="#666" stroke-width="0.5"/>
<line x1="484.84" y1="286.60" x2="484.84" y2="287.60" stroke="#666" stroke-width="0.5"/>
<line x1="486.58" y1="286.60" x2="486.58" y2="287.60" stroke="#666" stroke-width="0.5"/>
<line x1="488.01" y1="286.60" x2="488.01" y2="287.60" stroke="#666" stroke-width="0.5"/>
<line x1="489.21" y1="286.60" x2="489.21" y2="287.60" stroke="#666" stroke-width="0.5"/>
<line x1="490.26" y1="286.60" x2="490.26" y2="287.60" stroke="#666" stroke-width="0.5"/>
<line x1="491.18" y1="286.60" x2="491.18" y2="287.60" stroke="#666" stroke-width="0.5"/>
<line x1="429.28" y1="286.60" x2="429.28" y2="287.60" stroke="#666" stroke-width="0.5"/>
<line x1="432.06" y1="286.60" x2="432.06" y2="287.60" stroke="#666" stroke-width="0.5"/>
<line x1="434.84" y1="286.60" x2="434.84" y2="287.60" stroke="#666" stroke-width="0.5"/>
<line x1="437.62" y1="286.60" x2="437.62" y2="287.60" stroke="#666" stroke-width="0.5"/>
<line x1="440.40" y1="286.60" x2="440.40" y2="287.60" stroke="#666" stroke-width="0.5"/>
<line x1="443.18" y1="286.60" x2="443.18" y2="287.60" stroke="#666" stroke-width="0.5"/>
<line x1="445.96" y1="286.60" x2="445.96" y2="287.60" stroke="#666" stroke-width="0.5"/>
<line x1="448.74" y1="286.60" x2="448.74" y2="287.60" stroke="#666" stroke-width="0.5"/>
<line x1="451.52" y1="286.60" x2="451.52" y2="287.60" stroke="#666" stroke-width="0.5"/>
<text x="426.50" y="294.00" font-size="4.0" font-weight="bold" text-anchor="middle" fill="#4a4a4a">0</text>
<text x="454.30" y="294.00" font-size="4.0" font-weight="bold" text-anchor="middle" fill="#4a4a4a">10<tspan dy="-1.8" font-size="3.0">3</tspan></text>
<text x="474.00" y="294.00" font-size="4.0" font-weight="bold" text-anchor="middle" fill="#4a4a4a">10<tspan dy="-1.8" font-size="3.0">4</tspan></text>
<text x="492.00" y="294.00" font-size="4.0" font-weight="bold" text-anchor="middle" fill="#4a4a4a">10<tspan dy="-1.8" font-size="3.0">5</tspan></text>
<path d="M417.60,286.50 C418.42,286.50 421.18,286.65 422.50,286.50 C423.82,286.35 424.67,286.08 425.50,285.60 C426.33,285.12 426.87,284.62 427.50,283.60 C428.13,282.58 428.72,281.43 429.30,279.50 C429.88,277.57 430.48,275.08 431.00,272.00 C431.52,268.92 431.97,264.58 432.40,261.00 C432.83,257.42 433.12,253.13 433.60,250.50 C434.08,247.87 434.77,245.32 435.30,245.20 C435.83,245.08 436.42,248.07 436.80,249.80 C437.18,251.53 437.17,254.37 437.60,255.60 C438.03,256.83 438.83,255.72 439.40,257.20 C439.97,258.68 440.40,261.62 441.00,264.50 C441.60,267.38 442.33,271.88 443.00,274.50 C443.67,277.12 444.40,278.82 445.00,280.20 C445.60,281.58 445.93,282.12 446.60,282.80 C447.27,283.48 448.18,283.70 449.00,284.30 C449.82,284.90 443.35,286.03 451.50,286.40 C459.65,286.77 490.17,286.48 497.90,286.50" fill="none" stroke="#0a0a0a" stroke-width="1.7" stroke-linejoin="round"/>
<text x="452.60" y="218.60" font-size="10.3" fill="#1a1a1a">Patient 2</text>
<text x="426.80" y="304.80" font-size="8.4" fill="#1a1a1a">BCMA expression</text>
<path d="M311.70,315.40 H391.30 V394.80" fill="none" stroke="#cfcfcf" stroke-width="0.9"/>
<path d="M318.30,394.60 C318.42,393.83 318.78,393.77 319.00,390.00 C319.22,386.23 319.40,379.00 319.60,372.00 C319.80,365.00 320.00,355.33 320.20,348.00 C320.40,340.67 320.60,332.40 320.80,328.00 C321.00,323.60 321.20,321.60 321.40,321.60 C321.60,321.60 321.78,323.60 322.00,328.00 C322.22,332.40 322.47,340.67 322.70,348.00 C322.93,355.33 323.12,365.00 323.40,372.00 C323.68,379.00 324.03,386.23 324.40,390.00 C324.77,393.77 325.40,393.83 325.60,394.60 Z" fill="#ababab" stroke="none"/>
<line x1="311.70" y1="315.40" x2="311.70" y2="394.80" stroke="#8a8a8a" stroke-width="0.7"/>
<line x1="309.90" y1="394.00" x2="311.70" y2="394.00" stroke="#444" stroke-width="0.9"/>
<text x="307.90" y="395.50" font-size="4.2" font-weight="bold" text-anchor="end" fill="#4a4a4a">0</text>
<line x1="310.70" y1="390.27" x2="311.70" y2="390.27" stroke="#777" stroke-width="0.6"/>
<line x1="310.70" y1="386.54" x2="311.70" y2="386.54" stroke="#777" stroke-width="0.6"/>
<line x1="310.70" y1="382.81" x2="311.70" y2="382.81" stroke="#777" stroke-width="0.6"/>
<line x1="309.90" y1="379.08" x2="311.70" y2="379.08" stroke="#444" stroke-width="0.9"/>
<text x="307.90" y="380.58" font-size="4.2" font-weight="bold" text-anchor="end" fill="#4a4a4a">20</text>
<line x1="310.70" y1="375.35" x2="311.70" y2="375.35" stroke="#777" stroke-width="0.6"/>
<line x1="310.70" y1="371.62" x2="311.70" y2="371.62" stroke="#777" stroke-width="0.6"/>
<line x1="310.70" y1="367.89" x2="311.70" y2="367.89" stroke="#777" stroke-width="0.6"/>
<line x1="309.90" y1="364.16" x2="311.70" y2="364.16" stroke="#444" stroke-width="0.9"/>
<text x="307.90" y="365.66" font-size="4.2" font-weight="bold" text-anchor="end" fill="#4a4a4a">40</text>
<line x1="310.70" y1="360.43" x2="311.70" y2="360.43" stroke="#777" stroke-width="0.6"/>
<line x1="310.70" y1="356.70" x2="311.70" y2="356.70" stroke="#777" stroke-width="0.6"/>
<line x1="310.70" y1="352.97" x2="311.70" y2="352.97" stroke="#777" stroke-width="0.6"/>
<line x1="309.90" y1="349.24" x2="311.70" y2="349.24" stroke="#444" stroke-width="0.9"/>
<text x="307.90" y="350.74" font-size="4.2" font-weight="bold" text-anchor="end" fill="#4a4a4a">60</text>
<line x1="310.70" y1="345.51" x2="311.70" y2="345.51" stroke="#777" stroke-width="0.6"/>
<line x1="310.70" y1="341.78" x2="311.70" y2="341.78" stroke="#777" stroke-width="0.6"/>
<line x1="310.70" y1="338.05" x2="311.70" y2="338.05" stroke="#777" stroke-width="0.6"/>
<line x1="309.90" y1="334.32" x2="311.70" y2="334.32" stroke="#444" stroke-width="0.9"/>
<text x="307.90" y="335.82" font-size="4.2" font-weight="bold" text-anchor="end" fill="#4a4a4a">80</text>
<line x1="310.70" y1="330.59" x2="311.70" y2="330.59" stroke="#777" stroke-width="0.6"/>
<line x1="310.70" y1="326.86" x2="311.70" y2="326.86" stroke="#777" stroke-width="0.6"/>
<line x1="310.70" y1="323.13" x2="311.70" y2="323.13" stroke="#777" stroke-width="0.6"/>
<line x1="309.90" y1="319.40" x2="311.70" y2="319.40" stroke="#444" stroke-width="0.9"/>
<text x="307.90" y="320.90" font-size="4.2" font-weight="bold" text-anchor="end" fill="#4a4a4a">100</text>
<line x1="311.70" y1="394.80" x2="391.30" y2="394.80" stroke="#8a8a8a" stroke-width="0.7"/>
<line x1="322.00" y1="394.80" x2="322.00" y2="396.60" stroke="#555" stroke-width="0.6"/>
<line x1="348.70" y1="394.80" x2="348.70" y2="396.60" stroke="#555" stroke-width="0.6"/>
<line x1="367.50" y1="394.80" x2="367.50" y2="396.60" stroke="#555" stroke-width="0.6"/>
<line x1="386.20" y1="394.80" x2="386.20" y2="396.60" stroke="#555" stroke-width="0.6"/>
<line x1="354.36" y1="394.80" x2="354.36" y2="395.80" stroke="#666" stroke-width="0.5"/>
<line x1="357.67" y1="394.80" x2="357.67" y2="395.80" stroke="#666" stroke-width="0.5"/>
<line x1="360.02" y1="394.80" x2="360.02" y2="395.80" stroke="#666" stroke-width="0.5"/>
<line x1="361.84" y1="394.80" x2="361.84" y2="395.80" stroke="#666" stroke-width="0.5"/>
<line x1="363.33" y1="394.80" x2="363.33" y2="395.80" stroke="#666" stroke-width="0.5"/>
<line x1="364.59" y1="394.80" x2="364.59" y2="395.80" stroke="#666" stroke-width="0.5"/>
<line x1="365.68" y1="394.80" x2="365.68" y2="395.80" stroke="#666" stroke-width="0.5"/>
<line x1="366.64" y1="394.80" x2="366.64" y2="395.80" stroke="#666" stroke-width="0.5"/>
<line x1="373.13" y1="394.80" x2="373.13" y2="395.80" stroke="#666" stroke-width="0.5"/>
<line x1="376.42" y1="394.80" x2="376.42" y2="395.80" stroke="#666" stroke-width="0.5"/>
<line x1="378.76" y1="394.80" x2="378.76" y2="395.80" stroke="#666" stroke-width="0.5"/>
<line x1="380.57" y1="394.80" x2="380.57" y2="395.80" stroke="#666" stroke-width="0.5"/>
<line x1="382.05" y1="394.80" x2="382.05" y2="395.80" stroke="#666" stroke-width="0.5"/>
<line x1="383.30" y1="394.80" x2="383.30" y2="395.80" stroke="#666" stroke-width="0.5"/>
<line x1="384.39" y1="394.80" x2="384.39" y2="395.80" stroke="#666" stroke-width="0.5"/>
<line x1="385.34" y1="394.80" x2="385.34" y2="395.80" stroke="#666" stroke-width="0.5"/>
<line x1="324.67" y1="394.80" x2="324.67" y2="395.80" stroke="#666" stroke-width="0.5"/>
<line x1="327.34" y1="394.80" x2="327.34" y2="395.80" stroke="#666" stroke-width="0.5"/>
<line x1="330.01" y1="394.80" x2="330.01" y2="395.80" stroke="#666" stroke-width="0.5"/>
<line x1="332.68" y1="394.80" x2="332.68" y2="395.80" stroke="#666" stroke-width="0.5"/>
<line x1="335.35" y1="394.80" x2="335.35" y2="395.80" stroke="#666" stroke-width="0.5"/>
<line x1="338.02" y1="394.80" x2="338.02" y2="395.80" stroke="#666" stroke-width="0.5"/>
<line x1="340.69" y1="394.80" x2="340.69" y2="395.80" stroke="#666" stroke-width="0.5"/>
<line x1="343.36" y1="394.80" x2="343.36" y2="395.80" stroke="#666" stroke-width="0.5"/>
<line x1="346.03" y1="394.80" x2="346.03" y2="395.80" stroke="#666" stroke-width="0.5"/>
<text x="322.00" y="402.20" font-size="4.0" font-weight="bold" text-anchor="middle" fill="#4a4a4a">0</text>
<text x="348.70" y="402.20" font-size="4.0" font-weight="bold" text-anchor="middle" fill="#4a4a4a">10<tspan dy="-1.8" font-size="3.0">3</tspan></text>
<text x="367.50" y="402.20" font-size="4.0" font-weight="bold" text-anchor="middle" fill="#4a4a4a">10<tspan dy="-1.8" font-size="3.0">4</tspan></text>
<text x="386.20" y="402.20" font-size="4.0" font-weight="bold" text-anchor="middle" fill="#4a4a4a">10<tspan dy="-1.8" font-size="3.0">5</tspan></text>
<path d="M311.80,395.20 C312.50,395.22 314.80,395.33 316.00,395.30 C317.20,395.27 318.08,395.13 319.00,395.00 C319.92,394.87 320.67,394.67 321.50,394.50 C322.33,394.33 323.17,394.03 324.00,394.00 C324.83,393.97 325.58,394.12 326.50,394.30 C327.42,394.48 328.42,394.98 329.50,395.10 C330.58,395.22 331.75,395.08 333.00,395.00 C334.25,394.92 335.75,394.75 337.00,394.60 C338.25,394.45 339.50,394.37 340.50,394.10 C341.50,393.83 342.20,393.52 343.00,393.00 C343.80,392.48 344.58,391.95 345.30,391.00 C346.02,390.05 346.70,388.72 347.30,387.30 C347.90,385.88 348.42,384.38 348.90,382.50 C349.38,380.62 349.82,378.50 350.20,376.00 C350.58,373.50 350.87,369.73 351.20,367.50 C351.53,365.27 351.87,364.02 352.20,362.60 C352.53,361.18 352.73,361.57 353.20,359.00 C353.67,356.43 354.35,350.98 355.00,347.20 C355.65,343.42 356.57,339.02 357.10,336.30 C357.63,333.58 357.65,330.28 358.20,330.90 C358.75,331.52 359.73,336.37 360.40,340.00 C361.07,343.63 361.53,348.17 362.20,352.70 C362.87,357.23 363.63,362.37 364.40,367.20 C365.17,372.03 366.02,377.77 366.80,381.70 C367.58,385.63 368.20,388.68 369.10,390.80 C370.00,392.92 371.05,393.70 372.20,394.40 C373.35,395.10 372.82,394.90 376.00,395.00 C379.18,395.10 388.75,395.00 391.30,395.00" fill="none" stroke="#0a0a0a" stroke-width="1.7" stroke-linejoin="round"/>
<text x="342.80" y="325.60" font-size="10.3" fill="#1a1a1a">Patient 3</text>
<text x="317.30" y="414.40" font-size="8.4" fill="#1a1a1a">BCMA expression</text>
<path d="M416.40,316.20 H497.50 V396.10" fill="none" stroke="#cfcfcf" stroke-width="0.9"/>
<path d="M423.00,396.00 C423.12,395.00 423.48,394.33 423.70,390.00 C423.92,385.67 424.08,377.00 424.30,370.00 C424.52,363.00 424.77,354.17 425.00,348.00 C425.23,341.83 425.48,336.57 425.70,333.00 C425.92,329.43 426.10,326.60 426.30,326.60 C426.50,326.60 426.67,329.43 426.90,333.00 C427.13,336.57 427.42,341.83 427.70,348.00 C427.98,354.17 428.28,363.33 428.60,370.00 C428.92,376.67 429.23,383.67 429.60,388.00 C429.97,392.33 430.60,394.67 430.80,396.00 Z" fill="#ababab" stroke="none"/>
<line x1="416.40" y1="316.20" x2="416.40" y2="396.10" stroke="#8a8a8a" stroke-width="0.7"/>
<line x1="414.60" y1="395.30" x2="416.40" y2="395.30" stroke="#444" stroke-width="0.9"/>
<text x="412.60" y="396.80" font-size="4.2" font-weight="bold" text-anchor="end" fill="#4a4a4a">0</text>
<line x1="415.40" y1="391.55" x2="416.40" y2="391.55" stroke="#777" stroke-width="0.6"/>
<line x1="415.40" y1="387.79" x2="416.40" y2="387.79" stroke="#777" stroke-width="0.6"/>
<line x1="415.40" y1="384.04" x2="416.40" y2="384.04" stroke="#777" stroke-width="0.6"/>
<line x1="414.60" y1="380.28" x2="416.40" y2="380.28" stroke="#444" stroke-width="0.9"/>
<text x="412.60" y="381.78" font-size="4.2" font-weight="bold" text-anchor="end" fill="#4a4a4a">20</text>
<line x1="415.40" y1="376.52" x2="416.40" y2="376.52" stroke="#777" stroke-width="0.6"/>
<line x1="415.40" y1="372.77" x2="416.40" y2="372.77" stroke="#777" stroke-width="0.6"/>
<line x1="415.40" y1="369.01" x2="416.40" y2="369.01" stroke="#777" stroke-width="0.6"/>
<line x1="414.60" y1="365.26" x2="416.40" y2="365.26" stroke="#444" stroke-width="0.9"/>
<text x="412.60" y="366.76" font-size="4.2" font-weight="bold" text-anchor="end" fill="#4a4a4a">40</text>
<line x1="415.40" y1="361.50" x2="416.40" y2="361.50" stroke="#777" stroke-width="0.6"/>
<line x1="415.40" y1="357.75" x2="416.40" y2="357.75" stroke="#777" stroke-width="0.6"/>
<line x1="415.40" y1="354.00" x2="416.40" y2="354.00" stroke="#777" stroke-width="0.6"/>
<line x1="414.60" y1="350.24" x2="416.40" y2="350.24" stroke="#444" stroke-width="0.9"/>
<text x="412.60" y="351.74" font-size="4.2" font-weight="bold" text-anchor="end" fill="#4a4a4a">60</text>
<line x1="415.40" y1="346.49" x2="416.40" y2="346.49" stroke="#777" stroke-width="0.6"/>
<line x1="415.40" y1="342.73" x2="416.40" y2="342.73" stroke="#777" stroke-width="0.6"/>
<line x1="415.40" y1="338.98" x2="416.40" y2="338.98" stroke="#777" stroke-width="0.6"/>
<line x1="414.60" y1="335.22" x2="416.40" y2="335.22" stroke="#444" stroke-width="0.9"/>
<text x="412.60" y="336.72" font-size="4.2" font-weight="bold" text-anchor="end" fill="#4a4a4a">80</text>
<line x1="415.40" y1="331.46" x2="416.40" y2="331.46" stroke="#777" stroke-width="0.6"/>
<line x1="415.40" y1="327.71" x2="416.40" y2="327.71" stroke="#777" stroke-width="0.6"/>
<line x1="415.40" y1="323.95" x2="416.40" y2="323.95" stroke="#777" stroke-width="0.6"/>
<line x1="414.60" y1="320.20" x2="416.40" y2="320.20" stroke="#444" stroke-width="0.9"/>
<text x="412.60" y="321.70" font-size="4.2" font-weight="bold" text-anchor="end" fill="#4a4a4a">100</text>
<line x1="416.40" y1="396.10" x2="497.50" y2="396.10" stroke="#8a8a8a" stroke-width="0.7"/>
<line x1="426.80" y1="396.10" x2="426.80" y2="397.90" stroke="#555" stroke-width="0.6"/>
<line x1="453.50" y1="396.10" x2="453.50" y2="397.90" stroke="#555" stroke-width="0.6"/>
<line x1="473.20" y1="396.10" x2="473.20" y2="397.90" stroke="#555" stroke-width="0.6"/>
<line x1="490.70" y1="396.10" x2="490.70" y2="397.90" stroke="#555" stroke-width="0.6"/>
<line x1="459.43" y1="396.10" x2="459.43" y2="397.10" stroke="#666" stroke-width="0.5"/>
<line x1="462.90" y1="396.10" x2="462.90" y2="397.10" stroke="#666" stroke-width="0.5"/>
<line x1="465.36" y1="396.10" x2="465.36" y2="397.10" stroke="#666" stroke-width="0.5"/>
<line x1="467.27" y1="396.10" x2="467.27" y2="397.10" stroke="#666" stroke-width="0.5"/>
<line x1="468.83" y1="396.10" x2="468.83" y2="397.10" stroke="#666" stroke-width="0.5"/>
<line x1="470.15" y1="396.10" x2="470.15" y2="397.10" stroke="#666" stroke-width="0.5"/>
<line x1="471.29" y1="396.10" x2="471.29" y2="397.10" stroke="#666" stroke-width="0.5"/>
<line x1="472.30" y1="396.10" x2="472.30" y2="397.10" stroke="#666" stroke-width="0.5"/>
<line x1="478.47" y1="396.10" x2="478.47" y2="397.10" stroke="#666" stroke-width="0.5"/>
<line x1="481.55" y1="396.10" x2="481.55" y2="397.10" stroke="#666" stroke-width="0.5"/>
<line x1="483.74" y1="396.10" x2="483.74" y2="397.10" stroke="#666" stroke-width="0.5"/>
<line x1="485.43" y1="396.10" x2="485.43" y2="397.10" stroke="#666" stroke-width="0.5"/>
<line x1="486.82" y1="396.10" x2="486.82" y2="397.10" stroke="#666" stroke-width="0.5"/>
<line x1="487.99" y1="396.10" x2="487.99" y2="397.10" stroke="#666" stroke-width="0.5"/>
<line x1="489.00" y1="396.10" x2="489.00" y2="397.10" stroke="#666" stroke-width="0.5"/>
<line x1="489.90" y1="396.10" x2="489.90" y2="397.10" stroke="#666" stroke-width="0.5"/>
<line x1="429.47" y1="396.10" x2="429.47" y2="397.10" stroke="#666" stroke-width="0.5"/>
<line x1="432.14" y1="396.10" x2="432.14" y2="397.10" stroke="#666" stroke-width="0.5"/>
<line x1="434.81" y1="396.10" x2="434.81" y2="397.10" stroke="#666" stroke-width="0.5"/>
<line x1="437.48" y1="396.10" x2="437.48" y2="397.10" stroke="#666" stroke-width="0.5"/>
<line x1="440.15" y1="396.10" x2="440.15" y2="397.10" stroke="#666" stroke-width="0.5"/>
<line x1="442.82" y1="396.10" x2="442.82" y2="397.10" stroke="#666" stroke-width="0.5"/>
<line x1="445.49" y1="396.10" x2="445.49" y2="397.10" stroke="#666" stroke-width="0.5"/>
<line x1="448.16" y1="396.10" x2="448.16" y2="397.10" stroke="#666" stroke-width="0.5"/>
<line x1="450.83" y1="396.10" x2="450.83" y2="397.10" stroke="#666" stroke-width="0.5"/>
<text x="426.80" y="403.50" font-size="4.0" font-weight="bold" text-anchor="middle" fill="#4a4a4a">0</text>
<text x="453.50" y="403.50" font-size="4.0" font-weight="bold" text-anchor="middle" fill="#4a4a4a">10<tspan dy="-1.8" font-size="3.0">3</tspan></text>
<text x="473.20" y="403.50" font-size="4.0" font-weight="bold" text-anchor="middle" fill="#4a4a4a">10<tspan dy="-1.8" font-size="3.0">4</tspan></text>
<text x="490.70" y="403.50" font-size="4.0" font-weight="bold" text-anchor="middle" fill="#4a4a4a">10<tspan dy="-1.8" font-size="3.0">5</tspan></text>
<path d="M416.60,396.00 C417.33,396.00 419.60,395.97 421.00,396.00 C422.40,396.03 423.92,396.32 425.00,396.20 C426.08,396.08 426.52,395.40 427.50,395.30 C428.48,395.20 429.88,396.05 430.90,395.60 C431.92,395.15 432.70,393.80 433.60,392.60 C434.50,391.40 435.28,389.68 436.30,388.40 C437.32,387.12 438.78,386.20 439.70,384.90 C440.62,383.60 441.23,382.87 441.80,380.60 C442.37,378.33 442.70,374.63 443.10,371.30 C443.50,367.97 443.85,362.92 444.20,360.60 C444.55,358.28 444.75,357.22 445.20,357.40 C445.65,357.58 446.38,360.87 446.90,361.70 C447.42,362.53 447.83,362.02 448.30,362.40 C448.77,362.78 449.25,361.83 449.70,364.00 C450.15,366.17 450.55,372.18 451.00,375.40 C451.45,378.62 451.90,381.27 452.40,383.30 C452.90,385.33 453.32,386.65 454.00,387.60 C454.68,388.55 455.82,388.43 456.50,389.00 C457.18,389.57 457.38,389.98 458.10,391.00 C458.82,392.02 459.90,394.27 460.80,395.10 C461.70,395.93 457.38,395.85 463.50,396.00 C469.62,396.15 491.83,396.00 497.50,396.00" fill="none" stroke="#0a0a0a" stroke-width="1.7" stroke-linejoin="round"/>
<text x="451.40" y="327.00" font-size="10.3" fill="#1a1a1a">Patient 4</text>
<text x="426.60" y="415.00" font-size="8.4" fill="#1a1a1a">BCMA expression</text>
<rect x="310.35" y="425.15" width="17.0" height="15.2" rx="1.8" fill="none" stroke="#000" stroke-width="2.7"/>
<text x="335.0" y="435.6" font-size="8.3" fill="#1a1a1a">BCMA</text>
<rect x="413.3" y="423.8" width="18.9" height="18.5" rx="1.6" fill="#a6a6a6"/>
<text x="442.1" y="435.7" font-size="8.4" fill="#1a1a1a">Isotype control</text>
</svg>
</body></html>
